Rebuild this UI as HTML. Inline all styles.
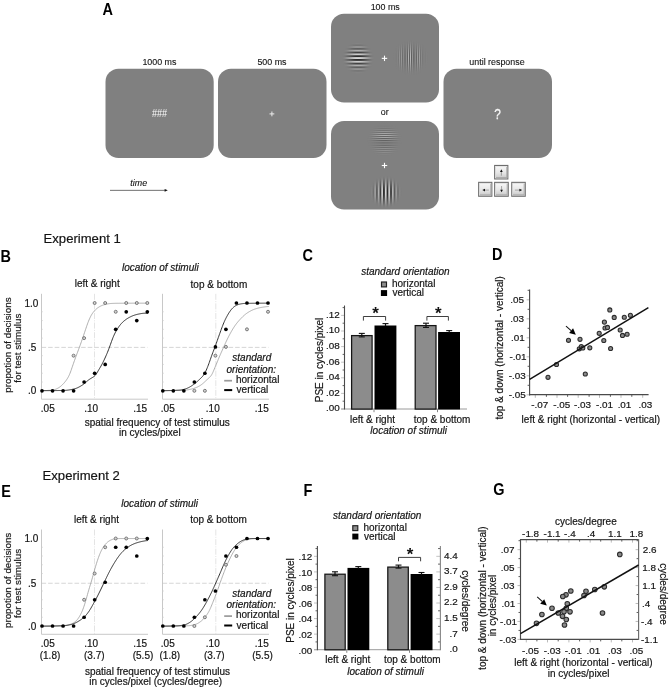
<!DOCTYPE html>
<html lang="en"><head><meta charset="utf-8"><title>Figure</title>
<style>html,body{margin:0;padding:0;background:#fff}svg{display:block;filter:blur(0.3px)}text{font-family:'Liberation Sans', sans-serif}</style>
</head><body>
<svg width="669" height="688" viewBox="0 0 669 688">
<rect width="669" height="688" fill="#fff"/>
<defs>
<linearGradient id="g1pg" x1="0" y1="0" x2="0" y2="1"><stop offset="0.0000" stop-color="rgb(1,1,1)"/><stop offset="0.0833" stop-color="rgb(18,18,18)"/><stop offset="0.1667" stop-color="rgb(64,64,64)"/><stop offset="0.2500" stop-color="rgb(128,128,128)"/><stop offset="0.3333" stop-color="rgb(191,191,191)"/><stop offset="0.4167" stop-color="rgb(238,238,238)"/><stop offset="0.5000" stop-color="rgb(255,255,255)"/><stop offset="0.5833" stop-color="rgb(238,238,238)"/><stop offset="0.6667" stop-color="rgb(192,192,192)"/><stop offset="0.7500" stop-color="rgb(128,128,128)"/><stop offset="0.8333" stop-color="rgb(64,64,64)"/><stop offset="0.9167" stop-color="rgb(18,18,18)"/><stop offset="1.0000" stop-color="rgb(1,1,1)"/></linearGradient>
<pattern id="g1p" patternUnits="userSpaceOnUse" x="0" y="56.190" width="40" height="3.72"><rect width="40" height="3.72" fill="url(#g1pg)"/></pattern>
<radialGradient id="g1mg" gradientUnits="userSpaceOnUse" cx="358.0" cy="58.05" r="16"><stop offset="0.0000" stop-color="rgb(255,255,255)"/><stop offset="0.0500" stop-color="rgb(253,253,253)"/><stop offset="0.1000" stop-color="rgb(248,248,248)"/><stop offset="0.1500" stop-color="rgb(240,240,240)"/><stop offset="0.2000" stop-color="rgb(228,228,228)"/><stop offset="0.2500" stop-color="rgb(214,214,214)"/><stop offset="0.3000" stop-color="rgb(199,199,199)"/><stop offset="0.3500" stop-color="rgb(182,182,182)"/><stop offset="0.4000" stop-color="rgb(164,164,164)"/><stop offset="0.4500" stop-color="rgb(146,146,146)"/><stop offset="0.5000" stop-color="rgb(128,128,128)"/><stop offset="0.5500" stop-color="rgb(110,110,110)"/><stop offset="0.6000" stop-color="rgb(94,94,94)"/><stop offset="0.6500" stop-color="rgb(79,79,79)"/><stop offset="0.7000" stop-color="rgb(66,66,66)"/><stop offset="0.7500" stop-color="rgb(45,45,45)"/><stop offset="0.8000" stop-color="rgb(29,29,29)"/><stop offset="0.8500" stop-color="rgb(17,17,17)"/><stop offset="0.9000" stop-color="rgb(9,9,9)"/><stop offset="0.9500" stop-color="rgb(3,3,3)"/><stop offset="1.0000" stop-color="rgb(0,0,0)"/></radialGradient>
<mask id="g1m" maskUnits="userSpaceOnUse" x="342.0" y="42.05" width="32" height="32"><rect x="342.0" y="42.05" width="32" height="32" fill="url(#g1mg)"/></mask>
<linearGradient id="g2pg" x1="0" y1="0" x2="1" y2="0"><stop offset="0.0000" stop-color="rgb(58,58,58)"/><stop offset="0.0833" stop-color="rgb(68,68,68)"/><stop offset="0.1667" stop-color="rgb(93,93,93)"/><stop offset="0.2500" stop-color="rgb(128,128,128)"/><stop offset="0.3333" stop-color="rgb(163,163,163)"/><stop offset="0.4167" stop-color="rgb(188,188,188)"/><stop offset="0.5000" stop-color="rgb(198,198,198)"/><stop offset="0.5833" stop-color="rgb(188,188,188)"/><stop offset="0.6667" stop-color="rgb(163,163,163)"/><stop offset="0.7500" stop-color="rgb(128,128,128)"/><stop offset="0.8333" stop-color="rgb(93,93,93)"/><stop offset="0.9167" stop-color="rgb(68,68,68)"/><stop offset="1.0000" stop-color="rgb(58,58,58)"/></linearGradient>
<pattern id="g2p" patternUnits="userSpaceOnUse" x="409.480" y="0" width="2.24" height="40"><rect width="2.24" height="40" fill="url(#g2pg)"/></pattern>
<radialGradient id="g2mg" gradientUnits="userSpaceOnUse" cx="410.6" cy="57.6" r="18"><stop offset="0.0000" stop-color="rgb(255,255,255)"/><stop offset="0.0500" stop-color="rgb(253,253,253)"/><stop offset="0.1000" stop-color="rgb(248,248,248)"/><stop offset="0.1500" stop-color="rgb(239,239,239)"/><stop offset="0.2000" stop-color="rgb(227,227,227)"/><stop offset="0.2500" stop-color="rgb(213,213,213)"/><stop offset="0.3000" stop-color="rgb(197,197,197)"/><stop offset="0.3500" stop-color="rgb(179,179,179)"/><stop offset="0.4000" stop-color="rgb(161,161,161)"/><stop offset="0.4500" stop-color="rgb(142,142,142)"/><stop offset="0.5000" stop-color="rgb(124,124,124)"/><stop offset="0.5500" stop-color="rgb(107,107,107)"/><stop offset="0.6000" stop-color="rgb(90,90,90)"/><stop offset="0.6500" stop-color="rgb(76,76,76)"/><stop offset="0.7000" stop-color="rgb(62,62,62)"/><stop offset="0.7500" stop-color="rgb(42,42,42)"/><stop offset="0.8000" stop-color="rgb(27,27,27)"/><stop offset="0.8500" stop-color="rgb(16,16,16)"/><stop offset="0.9000" stop-color="rgb(8,8,8)"/><stop offset="0.9500" stop-color="rgb(3,3,3)"/><stop offset="1.0000" stop-color="rgb(0,0,0)"/></radialGradient>
<mask id="g2m" maskUnits="userSpaceOnUse" x="392.6" y="39.6" width="36" height="36"><rect x="392.6" y="39.6" width="36" height="36" fill="url(#g2mg)"/></mask>
<linearGradient id="g3pg" x1="0" y1="0" x2="0" y2="1"><stop offset="0.0000" stop-color="rgb(64,64,64)"/><stop offset="0.0833" stop-color="rgb(73,73,73)"/><stop offset="0.1667" stop-color="rgb(96,96,96)"/><stop offset="0.2500" stop-color="rgb(128,128,128)"/><stop offset="0.3333" stop-color="rgb(160,160,160)"/><stop offset="0.4167" stop-color="rgb(183,183,183)"/><stop offset="0.5000" stop-color="rgb(192,192,192)"/><stop offset="0.5833" stop-color="rgb(183,183,183)"/><stop offset="0.6667" stop-color="rgb(160,160,160)"/><stop offset="0.7500" stop-color="rgb(128,128,128)"/><stop offset="0.8333" stop-color="rgb(96,96,96)"/><stop offset="0.9167" stop-color="rgb(73,73,73)"/><stop offset="1.0000" stop-color="rgb(64,64,64)"/></linearGradient>
<pattern id="g3p" patternUnits="userSpaceOnUse" x="0" y="138.740" width="40" height="2.12"><rect width="40" height="2.12" fill="url(#g3pg)"/></pattern>
<radialGradient id="g3mg" gradientUnits="userSpaceOnUse" cx="384.6" cy="139.8" r="17.5"><stop offset="0.0000" stop-color="rgb(255,255,255)"/><stop offset="0.0500" stop-color="rgb(253,253,253)"/><stop offset="0.1000" stop-color="rgb(248,248,248)"/><stop offset="0.1500" stop-color="rgb(239,239,239)"/><stop offset="0.2000" stop-color="rgb(227,227,227)"/><stop offset="0.2500" stop-color="rgb(212,212,212)"/><stop offset="0.3000" stop-color="rgb(195,195,195)"/><stop offset="0.3500" stop-color="rgb(178,178,178)"/><stop offset="0.4000" stop-color="rgb(159,159,159)"/><stop offset="0.4500" stop-color="rgb(140,140,140)"/><stop offset="0.5000" stop-color="rgb(122,122,122)"/><stop offset="0.5500" stop-color="rgb(104,104,104)"/><stop offset="0.6000" stop-color="rgb(88,88,88)"/><stop offset="0.6500" stop-color="rgb(73,73,73)"/><stop offset="0.7000" stop-color="rgb(60,60,60)"/><stop offset="0.7500" stop-color="rgb(40,40,40)"/><stop offset="0.8000" stop-color="rgb(26,26,26)"/><stop offset="0.8500" stop-color="rgb(15,15,15)"/><stop offset="0.9000" stop-color="rgb(8,8,8)"/><stop offset="0.9500" stop-color="rgb(3,3,3)"/><stop offset="1.0000" stop-color="rgb(0,0,0)"/></radialGradient>
<mask id="g3m" maskUnits="userSpaceOnUse" x="367.1" y="122.30000000000001" width="35.0" height="35.0"><rect x="367.1" y="122.30000000000001" width="35.0" height="35.0" fill="url(#g3mg)"/></mask>
<linearGradient id="g4pg" x1="0" y1="0" x2="1" y2="0"><stop offset="0.0000" stop-color="rgb(1,1,1)"/><stop offset="0.0833" stop-color="rgb(18,18,18)"/><stop offset="0.1667" stop-color="rgb(64,64,64)"/><stop offset="0.2500" stop-color="rgb(128,128,128)"/><stop offset="0.3333" stop-color="rgb(191,191,191)"/><stop offset="0.4167" stop-color="rgb(238,238,238)"/><stop offset="0.5000" stop-color="rgb(255,255,255)"/><stop offset="0.5833" stop-color="rgb(238,238,238)"/><stop offset="0.6667" stop-color="rgb(192,192,192)"/><stop offset="0.7500" stop-color="rgb(128,128,128)"/><stop offset="0.8333" stop-color="rgb(64,64,64)"/><stop offset="0.9167" stop-color="rgb(18,18,18)"/><stop offset="1.0000" stop-color="rgb(1,1,1)"/></linearGradient>
<pattern id="g4p" patternUnits="userSpaceOnUse" x="383.925" y="0" width="3.55" height="40"><rect width="3.55" height="40" fill="url(#g4pg)"/></pattern>
<radialGradient id="g4mg" gradientUnits="userSpaceOnUse" cx="385.7" cy="192.1" r="16.5"><stop offset="0.0000" stop-color="rgb(255,255,255)"/><stop offset="0.0500" stop-color="rgb(253,253,253)"/><stop offset="0.1000" stop-color="rgb(248,248,248)"/><stop offset="0.1500" stop-color="rgb(239,239,239)"/><stop offset="0.2000" stop-color="rgb(227,227,227)"/><stop offset="0.2500" stop-color="rgb(213,213,213)"/><stop offset="0.3000" stop-color="rgb(197,197,197)"/><stop offset="0.3500" stop-color="rgb(180,180,180)"/><stop offset="0.4000" stop-color="rgb(161,161,161)"/><stop offset="0.4500" stop-color="rgb(143,143,143)"/><stop offset="0.5000" stop-color="rgb(125,125,125)"/><stop offset="0.5500" stop-color="rgb(107,107,107)"/><stop offset="0.6000" stop-color="rgb(91,91,91)"/><stop offset="0.6500" stop-color="rgb(76,76,76)"/><stop offset="0.7000" stop-color="rgb(63,63,63)"/><stop offset="0.7500" stop-color="rgb(43,43,43)"/><stop offset="0.8000" stop-color="rgb(27,27,27)"/><stop offset="0.8500" stop-color="rgb(16,16,16)"/><stop offset="0.9000" stop-color="rgb(8,8,8)"/><stop offset="0.9500" stop-color="rgb(3,3,3)"/><stop offset="1.0000" stop-color="rgb(0,0,0)"/></radialGradient>
<mask id="g4m" maskUnits="userSpaceOnUse" x="369.2" y="175.6" width="33.0" height="33.0"><rect x="369.2" y="175.6" width="33.0" height="33.0" fill="url(#g4mg)"/></mask>
<linearGradient id="keyface" x1="0" y1="0" x2="0" y2="1"><stop offset="0" stop-color="#f6f6f6"/><stop offset="0.6" stop-color="#e6e6e6"/><stop offset="1" stop-color="#cfcfcf"/></linearGradient>
</defs>
<text transform="translate(102.5 15.1) scale(0.91 1)" font-size="15.9" font-weight="bold" fill="#000">A</text>
<rect x="105.5" y="68.8" width="108.2" height="89.2" rx="13" ry="13" fill="#808080"/>
<rect x="218.0" y="68.8" width="108.5" height="89.2" rx="13" ry="13" fill="#808080"/>
<rect x="331.0" y="13.8" width="108.0" height="88.7" rx="13" ry="13" fill="#808080"/>
<rect x="331.0" y="121.0" width="108.0" height="88.5" rx="13" ry="13" fill="#808080"/>
<rect x="443.5" y="68.8" width="108.5" height="89.2" rx="13" ry="13" fill="#808080"/>
<text x="159.4" y="64.6" font-size="8.9" text-anchor="middle" fill="#111" stroke="#222" stroke-width="0.12">1000 ms</text>
<text x="272.0" y="64.6" font-size="8.9" text-anchor="middle" fill="#111" stroke="#222" stroke-width="0.12">500 ms</text>
<text x="385.2" y="9.6" font-size="8.9" text-anchor="middle" fill="#111" stroke="#222" stroke-width="0.12">100 ms</text>
<text x="384.7" y="115.2" font-size="8.9" text-anchor="middle" fill="#111" stroke="#222" stroke-width="0.12">or</text>
<text x="497.0" y="64.6" font-size="8.9" text-anchor="middle" fill="#111" stroke="#222" stroke-width="0.12">until response</text>
<text x="151.9" y="117.0" font-size="10" text-anchor="start" fill="#fafafa" textLength="15.2" lengthAdjust="spacingAndGlyphs">###</text>
<line x1="269.5" y1="113.9" x2="274.29999999999995" y2="113.9" stroke="#ececec" stroke-width="1.0"/>
<line x1="271.9" y1="111.5" x2="271.9" y2="116.30000000000001" stroke="#ececec" stroke-width="1.0"/>
<line x1="381.8" y1="58.35" x2="387.2" y2="58.35" stroke="#fff" stroke-width="1.1"/>
<line x1="384.5" y1="55.65" x2="384.5" y2="61.050000000000004" stroke="#fff" stroke-width="1.1"/>
<line x1="381.8" y1="165.5" x2="387.2" y2="165.5" stroke="#fff" stroke-width="1.1"/>
<line x1="384.5" y1="162.8" x2="384.5" y2="168.2" stroke="#fff" stroke-width="1.1"/>
<text transform="translate(497.6 119.2) scale(0.8 1)" font-size="14.8" text-anchor="middle" fill="#f6f6f6" stroke="#f6f6f6" stroke-width="0.3">?</text>
<rect x="342.0" y="42.05" width="32" height="32" fill="url(#g1p)" mask="url(#g1m)"/>
<rect x="392.6" y="39.6" width="36" height="36" fill="url(#g2p)" mask="url(#g2m)"/>
<rect x="367.1" y="122.30000000000001" width="35.0" height="35.0" fill="url(#g3p)" mask="url(#g3m)"/>
<rect x="369.2" y="175.6" width="33.0" height="33.0" fill="url(#g4p)" mask="url(#g4m)"/>
<text x="130.3" y="186.0" font-size="8.9" text-anchor="start" fill="#111" stroke="#222" stroke-width="0.12" font-style="italic">time</text>
<line x1="110" y1="190.35" x2="165.5" y2="190.35" stroke="#222" stroke-width="0.65"/>
<path d="M167.8 190.35 L164.6 189.0 L164.6 191.7 Z" fill="#111"/>
<rect x="494.1" y="164.9" width="14.3" height="14.6" fill="#6e6e6e"/>
<rect x="495.20000000000005" y="166.0" width="12.100000000000001" height="12.399999999999999" fill="#fafafa"/>
<rect x="495.90000000000003" y="166.70000000000002" width="11.4" height="11.7" fill="#a8a8a8"/>
<rect x="495.90000000000003" y="166.70000000000002" width="10.4" height="10.399999999999999" fill="url(#keyface)"/>
<line x1="501.35" y1="171.2" x2="501.35" y2="175.7" stroke="#7a7a7a" stroke-width="0.7"/>
<path d="M501.35 169.2 L500.0 171.9 L502.70000000000005 171.9 Z" fill="#111"/>
<rect x="478.1" y="181.8" width="14.3" height="15.0" fill="#6e6e6e"/>
<rect x="479.20000000000005" y="182.9" width="12.100000000000001" height="12.8" fill="#fafafa"/>
<rect x="479.90000000000003" y="183.60000000000002" width="11.4" height="12.1" fill="#a8a8a8"/>
<rect x="479.90000000000003" y="183.60000000000002" width="10.4" height="10.8" fill="url(#keyface)"/>
<line x1="484.2" y1="190.1" x2="488.9" y2="190.1" stroke="#8a8a8a" stroke-width="0.7"/>
<path d="M482.3 190.1 L485.0 188.75 L485.0 191.45 Z" fill="#111"/>
<rect x="494.1" y="181.8" width="14.7" height="15.0" fill="#6e6e6e"/>
<rect x="495.20000000000005" y="182.9" width="12.5" height="12.8" fill="#fafafa"/>
<rect x="495.90000000000003" y="183.60000000000002" width="11.799999999999999" height="12.1" fill="#a8a8a8"/>
<rect x="495.90000000000003" y="183.60000000000002" width="10.799999999999999" height="10.8" fill="url(#keyface)"/>
<line x1="501.55000000000007" y1="186.0" x2="501.55000000000007" y2="190.4" stroke="#8a8a8a" stroke-width="0.7"/>
<path d="M501.55000000000007 192.3 L500.20000000000005 189.7 L502.9000000000001 189.7 Z" fill="#111"/>
<rect x="511.2" y="181.8" width="14.6" height="15.0" fill="#6e6e6e"/>
<rect x="512.3" y="182.9" width="12.399999999999999" height="12.8" fill="#fafafa"/>
<rect x="513.0" y="183.60000000000002" width="11.7" height="12.1" fill="#a8a8a8"/>
<rect x="513.0" y="183.60000000000002" width="10.7" height="10.8" fill="url(#keyface)"/>
<line x1="514.9" y1="190.1" x2="519.6" y2="190.1" stroke="#8a8a8a" stroke-width="0.7"/>
<path d="M522.2 190.1 L519.4 188.75 L519.4 191.45 Z" fill="#111"/>
<text x="43.6" y="243.3" font-size="13.1" text-anchor="start" fill="#111" stroke="#222" stroke-width="0.2">Experiment 1</text>
<text transform="translate(0.4 262.0) scale(0.91 1)" font-size="15.9" font-weight="bold" fill="#000">B</text>
<text x="122.0" y="270.9" font-size="10.0" text-anchor="start" fill="#111" stroke="#222" stroke-width="0.2" font-style="italic">location of stimuli</text>
<text x="97.2" y="286.9" font-size="10.0" text-anchor="middle" fill="#111" stroke="#222" stroke-width="0.2">left &amp; right</text>
<text x="218.9" y="287.5" font-size="10.0" text-anchor="middle" fill="#111" stroke="#222" stroke-width="0.2">top &amp; bottom</text>
<line x1="41.5" y1="293.8" x2="41.5" y2="399.2" stroke="#c2c2c2" stroke-width="0.9"/>
<line x1="41.5" y1="399.2" x2="148.0" y2="399.2" stroke="#c2c2c2" stroke-width="0.9"/>
<line x1="41.5" y1="347.4" x2="147.5" y2="347.4" stroke="#c4c4c4" stroke-width="0.7" stroke-dasharray="4.6 2"/>
<line x1="94.5" y1="293.8" x2="94.5" y2="399.2" stroke="#d2d2d2" stroke-width="0.6" stroke-dasharray="6 1.3 1 1.3"/>
<line x1="41.5" y1="382.02" x2="43.0" y2="382.02" stroke="#d0d0d0" stroke-width="0.6"/>
<line x1="41.5" y1="373.24" x2="43.0" y2="373.24" stroke="#d0d0d0" stroke-width="0.6"/>
<line x1="41.5" y1="364.46000000000004" x2="43.0" y2="364.46000000000004" stroke="#d0d0d0" stroke-width="0.6"/>
<line x1="41.5" y1="355.68" x2="43.0" y2="355.68" stroke="#d0d0d0" stroke-width="0.6"/>
<line x1="41.5" y1="338.12" x2="43.0" y2="338.12" stroke="#d0d0d0" stroke-width="0.6"/>
<line x1="41.5" y1="329.34" x2="43.0" y2="329.34" stroke="#d0d0d0" stroke-width="0.6"/>
<line x1="41.5" y1="320.56" x2="43.0" y2="320.56" stroke="#d0d0d0" stroke-width="0.6"/>
<line x1="41.5" y1="311.78" x2="43.0" y2="311.78" stroke="#d0d0d0" stroke-width="0.6"/>
<line x1="162.5" y1="293.8" x2="162.5" y2="399.2" stroke="#c2c2c2" stroke-width="0.9"/>
<line x1="162.5" y1="399.2" x2="269.0" y2="399.2" stroke="#c2c2c2" stroke-width="0.9"/>
<line x1="162.5" y1="347.4" x2="268.5" y2="347.4" stroke="#c4c4c4" stroke-width="0.7" stroke-dasharray="4.6 2"/>
<line x1="215.8" y1="293.8" x2="215.8" y2="399.2" stroke="#d2d2d2" stroke-width="0.6" stroke-dasharray="6 1.3 1 1.3"/>
<line x1="162.5" y1="382.02" x2="164.0" y2="382.02" stroke="#d0d0d0" stroke-width="0.6"/>
<line x1="162.5" y1="373.24" x2="164.0" y2="373.24" stroke="#d0d0d0" stroke-width="0.6"/>
<line x1="162.5" y1="364.46000000000004" x2="164.0" y2="364.46000000000004" stroke="#d0d0d0" stroke-width="0.6"/>
<line x1="162.5" y1="355.68" x2="164.0" y2="355.68" stroke="#d0d0d0" stroke-width="0.6"/>
<line x1="162.5" y1="338.12" x2="164.0" y2="338.12" stroke="#d0d0d0" stroke-width="0.6"/>
<line x1="162.5" y1="329.34" x2="164.0" y2="329.34" stroke="#d0d0d0" stroke-width="0.6"/>
<line x1="162.5" y1="320.56" x2="164.0" y2="320.56" stroke="#d0d0d0" stroke-width="0.6"/>
<line x1="162.5" y1="311.78" x2="164.0" y2="311.78" stroke="#d0d0d0" stroke-width="0.6"/>
<polyline points="42.0,390.62 42.5,390.62 43.0,390.61 43.5,390.61 44.0,390.60 44.5,390.59 45.0,390.57 45.5,390.56 46.0,390.54 46.5,390.52 47.0,390.49 47.5,390.46 48.0,390.43 48.5,390.40 49.0,390.36 49.5,390.33 50.0,390.28 50.5,390.24 51.0,390.19 51.5,390.15 52.0,390.09 52.5,390.03 53.0,389.96 53.5,389.88 54.0,389.77 54.5,389.64 55.0,389.49 55.5,389.31 56.0,389.11 56.5,388.89 57.0,388.65 57.5,388.39 58.0,388.12 58.5,387.83 59.0,387.52 59.5,387.18 60.0,386.82 60.5,386.44 61.0,386.02 61.5,385.58 62.0,385.12 62.5,384.64 63.0,384.14 63.5,383.61 64.0,383.06 64.5,382.48 65.0,381.88 65.5,381.24 66.0,380.57 66.5,379.86 67.0,379.12 67.5,378.32 68.0,377.47 68.5,376.56 69.0,375.57 69.5,374.47 70.0,373.28 70.5,371.98 71.0,370.59 71.5,369.15 72.0,367.68 72.5,366.21 73.0,364.75 73.5,363.31 74.0,361.89 74.5,360.49 75.0,359.10 75.5,357.73 76.0,356.37 76.5,355.02 77.0,353.68 77.5,352.34 78.0,351.01 78.5,349.67 79.0,348.33 79.5,346.97 80.0,345.61 80.5,344.23 81.0,342.83 81.5,341.43 82.0,340.00 82.5,338.55 83.0,337.09 83.5,335.61 84.0,334.12 84.5,332.63 85.0,331.13 85.5,329.64 86.0,328.16 86.5,326.70 87.0,325.26 87.5,323.86 88.0,322.51 88.5,321.22 89.0,320.00 89.5,318.84 90.0,317.75 90.5,316.72 91.0,315.76 91.5,314.87 92.0,314.05 92.5,313.29 93.0,312.60 93.5,311.95 94.0,311.35 94.5,310.79 95.0,310.26 95.5,309.75 96.0,309.27 96.5,308.82 97.0,308.40 97.5,308.01 98.0,307.64 98.5,307.30 99.0,306.98 99.5,306.68 100.0,306.41 100.5,306.15 101.0,305.91 101.5,305.68 102.0,305.47 102.5,305.28 103.0,305.10 103.5,304.93 104.0,304.77 104.5,304.63 105.0,304.49 105.5,304.36 106.0,304.25 106.5,304.14 107.0,304.03 107.5,303.93 108.0,303.84 108.5,303.76 109.0,303.69 109.5,303.63 110.0,303.58 110.5,303.54 111.0,303.50 111.5,303.47 112.0,303.44 112.5,303.41 113.0,303.39 113.5,303.37 114.0,303.35 114.5,303.33 115.0,303.32 115.5,303.31 116.0,303.30 116.5,303.29 117.0,303.28 117.5,303.28 118.0,303.27 118.5,303.27 119.0,303.26 119.5,303.26 120.0,303.26 120.5,303.25 121.0,303.25 121.5,303.24 122.0,303.24 122.5,303.24 123.0,303.23 123.5,303.23 124.0,303.23 124.5,303.22 125.0,303.22 125.5,303.22 126.0,303.21 126.5,303.21 127.0,303.21 127.5,303.20 128.0,303.20 128.5,303.20 129.0,303.20 129.5,303.19 130.0,303.19 130.5,303.19 131.0,303.19 131.5,303.19 132.0,303.18 132.5,303.18 133.0,303.18 133.5,303.18 134.0,303.18 134.5,303.18 135.0,303.17 135.5,303.17 136.0,303.17 136.5,303.17 137.0,303.17 137.5,303.17 138.0,303.17 138.5,303.17 139.0,303.17 139.5,303.16 140.0,303.16 140.5,303.16 141.0,303.16 141.5,303.16 142.0,303.16 142.5,303.16 143.0,303.16 143.5,303.16 144.0,303.16 144.5,303.16 145.0,303.16 145.5,303.16 146.0,303.16 146.5,303.16 147.0,303.16 147.5,303.16" fill="none" stroke="#9a9a9a" stroke-width="0.8" stroke-linejoin="round" stroke-linecap="round"/>
<polyline points="42.0,390.62 42.5,390.62 43.0,390.62 43.5,390.62 44.0,390.62 44.5,390.62 45.0,390.62 45.5,390.62 46.0,390.62 46.5,390.61 47.0,390.61 47.5,390.61 48.0,390.61 48.5,390.61 49.0,390.61 49.5,390.60 50.0,390.60 50.5,390.60 51.0,390.60 51.5,390.59 52.0,390.59 52.5,390.59 53.0,390.58 53.5,390.58 54.0,390.57 54.5,390.57 55.0,390.57 55.5,390.56 56.0,390.56 56.5,390.55 57.0,390.55 57.5,390.54 58.0,390.54 58.5,390.53 59.0,390.52 59.5,390.52 60.0,390.51 60.5,390.50 61.0,390.50 61.5,390.49 62.0,390.48 62.5,390.47 63.0,390.46 63.5,390.45 64.0,390.44 64.5,390.42 65.0,390.40 65.5,390.37 66.0,390.33 66.5,390.28 67.0,390.23 67.5,390.17 68.0,390.11 68.5,390.04 69.0,389.96 69.5,389.88 70.0,389.80 70.5,389.71 71.0,389.61 71.5,389.51 72.0,389.41 72.5,389.30 73.0,389.19 73.5,389.08 74.0,388.95 74.5,388.83 75.0,388.69 75.5,388.54 76.0,388.37 76.5,388.19 77.0,387.99 77.5,387.77 78.0,387.54 78.5,387.29 79.0,387.03 79.5,386.76 80.0,386.48 80.5,386.19 81.0,385.89 81.5,385.59 82.0,385.27 82.5,384.94 83.0,384.59 83.5,384.22 84.0,383.84 84.5,383.43 85.0,383.01 85.5,382.58 86.0,382.14 86.5,381.71 87.0,381.27 87.5,380.84 88.0,380.43 88.5,380.03 89.0,379.65 89.5,379.30 90.0,378.97 90.5,378.65 91.0,378.35 91.5,378.06 92.0,377.77 92.5,377.47 93.0,377.16 93.5,376.83 94.0,376.46 94.5,376.05 95.0,375.57 95.5,375.01 96.0,374.36 96.5,373.62 97.0,372.82 97.5,371.97 98.0,371.11 98.5,370.26 99.0,369.41 99.5,368.57 100.0,367.73 100.5,366.88 101.0,366.01 101.5,365.12 102.0,364.19 102.5,363.24 103.0,362.25 103.5,361.24 104.0,360.20 104.5,359.14 105.0,358.06 105.5,356.95 106.0,355.82 106.5,354.67 107.0,353.48 107.5,352.27 108.0,351.02 108.5,349.74 109.0,348.42 109.5,347.07 110.0,345.70 110.5,344.31 111.0,342.92 111.5,341.53 112.0,340.16 112.5,338.83 113.0,337.55 113.5,336.35 114.0,335.21 114.5,334.15 115.0,333.14 115.5,332.18 116.0,331.27 116.5,330.39 117.0,329.54 117.5,328.73 118.0,327.95 118.5,327.21 119.0,326.49 119.5,325.81 120.0,325.16 120.5,324.54 121.0,323.94 121.5,323.38 122.0,322.85 122.5,322.34 123.0,321.86 123.5,321.41 124.0,320.98 124.5,320.57 125.0,320.17 125.5,319.80 126.0,319.44 126.5,319.09 127.0,318.76 127.5,318.44 128.0,318.14 128.5,317.84 129.0,317.56 129.5,317.29 130.0,317.02 130.5,316.77 131.0,316.53 131.5,316.30 132.0,316.08 132.5,315.87 133.0,315.68 133.5,315.49 134.0,315.32 134.5,315.15 135.0,314.99 135.5,314.84 136.0,314.69 136.5,314.56 137.0,314.43 137.5,314.31 138.0,314.19 138.5,314.08 139.0,313.98 139.5,313.88 140.0,313.79 140.5,313.70 141.0,313.61 141.5,313.53 142.0,313.46 142.5,313.39 143.0,313.34 143.5,313.29 144.0,313.26 144.5,313.23 145.0,313.22 145.5,313.21 146.0,313.21 146.5,313.21 147.0,313.21 147.5,313.21" fill="none" stroke="#1c1c1c" stroke-width="0.9" stroke-linejoin="round" stroke-linecap="round"/>
<polyline points="162.8,390.62 163.3,390.62 163.8,390.62 164.3,390.62 164.8,390.62 165.3,390.62 165.8,390.61 166.3,390.61 166.8,390.61 167.3,390.60 167.8,390.60 168.3,390.59 168.8,390.59 169.3,390.58 169.8,390.58 170.3,390.57 170.8,390.56 171.3,390.56 171.8,390.55 172.3,390.54 172.8,390.53 173.3,390.52 173.8,390.51 174.3,390.50 174.8,390.49 175.3,390.47 175.8,390.46 176.3,390.45 176.8,390.43 177.3,390.42 177.8,390.41 178.3,390.39 178.8,390.37 179.3,390.36 179.8,390.34 180.3,390.32 180.8,390.30 181.3,390.29 181.8,390.27 182.3,390.25 182.8,390.23 183.3,390.21 183.8,390.18 184.3,390.16 184.8,390.13 185.3,390.10 185.8,390.06 186.3,390.02 186.8,389.96 187.3,389.90 187.8,389.83 188.3,389.74 188.8,389.65 189.3,389.55 189.8,389.44 190.3,389.33 190.8,389.21 191.3,389.08 191.8,388.95 192.3,388.82 192.8,388.68 193.3,388.54 193.8,388.39 194.3,388.23 194.8,388.06 195.3,387.88 195.8,387.69 196.3,387.49 196.8,387.27 197.3,387.05 197.8,386.81 198.3,386.56 198.8,386.30 199.3,386.02 199.8,385.73 200.3,385.43 200.8,385.10 201.3,384.75 201.8,384.38 202.3,383.99 202.8,383.57 203.3,383.14 203.8,382.68 204.3,382.22 204.8,381.75 205.3,381.27 205.8,380.80 206.3,380.33 206.8,379.86 207.3,379.41 207.8,378.96 208.3,378.52 208.8,378.07 209.3,377.61 209.8,377.12 210.3,376.59 210.8,375.99 211.3,375.29 211.8,374.49 212.3,373.57 212.8,372.54 213.3,371.42 213.8,370.24 214.3,369.02 214.8,367.81 215.3,366.59 215.8,365.38 216.3,364.17 216.8,362.97 217.3,361.76 217.8,360.56 218.3,359.35 218.8,358.15 219.3,356.95 219.8,355.77 220.3,354.61 220.8,353.46 221.3,352.33 221.8,351.21 222.3,350.11 222.8,349.00 223.3,347.90 223.8,346.78 224.3,345.67 224.8,344.55 225.3,343.45 225.8,342.35 226.3,341.27 226.8,340.22 227.3,339.19 227.8,338.18 228.3,337.19 228.8,336.21 229.3,335.25 229.8,334.31 230.3,333.38 230.8,332.47 231.3,331.57 231.8,330.70 232.3,329.85 232.8,329.02 233.3,328.22 233.8,327.43 234.3,326.67 234.8,325.93 235.3,325.21 235.8,324.52 236.3,323.85 236.8,323.20 237.3,322.58 237.8,321.98 238.3,321.39 238.8,320.82 239.3,320.26 239.8,319.71 240.3,319.17 240.8,318.63 241.3,318.10 241.8,317.58 242.3,317.08 242.8,316.59 243.3,316.11 243.8,315.65 244.3,315.21 244.8,314.79 245.3,314.39 245.8,314.00 246.3,313.63 246.8,313.27 247.3,312.92 247.8,312.59 248.3,312.27 248.8,311.97 249.3,311.67 249.8,311.38 250.3,311.11 250.8,310.84 251.3,310.58 251.8,310.34 252.3,310.10 252.8,309.88 253.3,309.67 253.8,309.47 254.3,309.28 254.8,309.10 255.3,308.93 255.8,308.77 256.3,308.62 256.8,308.47 257.3,308.33 257.8,308.20 258.3,308.07 258.8,307.95 259.3,307.84 259.8,307.74 260.3,307.63 260.8,307.54 261.3,307.44 261.8,307.35 262.3,307.27 262.8,307.19 263.3,307.11 263.8,307.03 264.3,306.96 264.8,306.89 265.3,306.82 265.8,306.76 266.3,306.70 266.8,306.64 267.3,306.59 267.8,306.55 268.3,306.52" fill="none" stroke="#9a9a9a" stroke-width="0.8" stroke-linejoin="round" stroke-linecap="round"/>
<polyline points="162.8,390.62 163.3,390.62 163.8,390.62 164.3,390.62 164.8,390.61 165.3,390.61 165.8,390.61 166.3,390.60 166.8,390.60 167.3,390.59 167.8,390.58 168.3,390.57 168.8,390.56 169.3,390.55 169.8,390.54 170.3,390.53 170.8,390.52 171.3,390.50 171.8,390.49 172.3,390.47 172.8,390.46 173.3,390.44 173.8,390.42 174.3,390.40 174.8,390.38 175.3,390.36 175.8,390.34 176.3,390.32 176.8,390.29 177.3,390.27 177.8,390.24 178.3,390.22 178.8,390.19 179.3,390.16 179.8,390.12 180.3,390.07 180.8,390.02 181.3,389.95 181.8,389.86 182.3,389.77 182.8,389.65 183.3,389.53 183.8,389.40 184.3,389.25 184.8,389.10 185.3,388.94 185.8,388.77 186.3,388.59 186.8,388.41 187.3,388.21 187.8,387.99 188.3,387.76 188.8,387.51 189.3,387.25 189.8,386.97 190.3,386.67 190.8,386.37 191.3,386.05 191.8,385.72 192.3,385.39 192.8,385.05 193.3,384.70 193.8,384.34 194.3,383.97 194.8,383.58 195.3,383.19 195.8,382.78 196.3,382.35 196.8,381.92 197.3,381.47 197.8,381.02 198.3,380.55 198.8,380.09 199.3,379.61 199.8,379.14 200.3,378.67 200.8,378.18 201.3,377.69 201.8,377.19 202.3,376.66 202.8,376.09 203.3,375.48 203.8,374.80 204.3,374.04 204.8,373.19 205.3,372.23 205.8,371.19 206.3,370.06 206.8,368.88 207.3,367.66 207.8,366.41 208.3,365.12 208.8,363.80 209.3,362.43 209.8,361.02 210.3,359.58 210.8,358.13 211.3,356.69 211.8,355.29 212.3,353.94 212.8,352.62 213.3,351.34 213.8,350.07 214.3,348.78 214.8,347.48 215.3,346.13 215.8,344.75 216.3,343.33 216.8,341.89 217.3,340.45 217.8,339.02 218.3,337.59 218.8,336.19 219.3,334.79 219.8,333.41 220.3,332.02 220.8,330.64 221.3,329.26 221.8,327.90 222.3,326.57 222.8,325.27 223.3,324.01 223.8,322.80 224.3,321.65 224.8,320.54 225.3,319.48 225.8,318.46 226.3,317.48 226.8,316.54 227.3,315.63 227.8,314.76 228.3,313.91 228.8,313.10 229.3,312.32 229.8,311.57 230.3,310.85 230.8,310.18 231.3,309.55 231.8,308.96 232.3,308.41 232.8,307.91 233.3,307.44 233.8,307.01 234.3,306.61 234.8,306.25 235.3,305.93 235.8,305.64 236.3,305.37 236.8,305.14 237.3,304.92 237.8,304.72 238.3,304.54 238.8,304.38 239.3,304.24 239.8,304.12 240.3,304.01 240.8,303.91 241.3,303.82 241.8,303.74 242.3,303.67 242.8,303.61 243.3,303.55 243.8,303.51 244.3,303.47 244.8,303.44 245.3,303.42 245.8,303.40 246.3,303.39 246.8,303.38 247.3,303.36 247.8,303.35 248.3,303.34 248.8,303.34 249.3,303.33 249.8,303.32 250.3,303.31 250.8,303.30 251.3,303.29 251.8,303.29 252.3,303.28 252.8,303.27 253.3,303.26 253.8,303.26 254.3,303.25 254.8,303.25 255.3,303.24 255.8,303.23 256.3,303.23 256.8,303.22 257.3,303.22 257.8,303.21 258.3,303.21 258.8,303.20 259.3,303.20 259.8,303.20 260.3,303.19 260.8,303.19 261.3,303.19 261.8,303.18 262.3,303.18 262.8,303.18 263.3,303.18 263.8,303.17 264.3,303.17 264.8,303.17 265.3,303.17 265.8,303.17 266.3,303.17 266.8,303.17 267.3,303.16 267.8,303.16 268.3,303.16" fill="none" stroke="#1c1c1c" stroke-width="0.9" stroke-linejoin="round" stroke-linecap="round"/>
<circle cx="73.59" cy="355.68" r="1.5" fill="#d2d2d2" stroke="#6e6e6e" stroke-width="0.9"/>
<circle cx="84.12" cy="338.12" r="1.5" fill="#d2d2d2" stroke="#6e6e6e" stroke-width="0.9"/>
<circle cx="94.65" cy="303.00" r="1.5" fill="#d2d2d2" stroke="#6e6e6e" stroke-width="0.9"/>
<circle cx="105.18" cy="303.00" r="1.5" fill="#d2d2d2" stroke="#6e6e6e" stroke-width="0.9"/>
<circle cx="115.71" cy="311.78" r="1.5" fill="#d2d2d2" stroke="#6e6e6e" stroke-width="0.9"/>
<circle cx="126.24" cy="303.00" r="1.5" fill="#d2d2d2" stroke="#6e6e6e" stroke-width="0.9"/>
<circle cx="136.77" cy="303.00" r="1.5" fill="#d2d2d2" stroke="#6e6e6e" stroke-width="0.9"/>
<circle cx="147.30" cy="303.00" r="1.5" fill="#d2d2d2" stroke="#6e6e6e" stroke-width="0.9"/>
<circle cx="42.00" cy="390.80" r="1.85" fill="#000"/>
<circle cx="52.53" cy="390.80" r="1.85" fill="#000"/>
<circle cx="63.06" cy="390.80" r="1.85" fill="#000"/>
<circle cx="73.59" cy="390.80" r="1.85" fill="#000"/>
<circle cx="84.12" cy="382.02" r="1.85" fill="#000"/>
<circle cx="94.65" cy="373.24" r="1.85" fill="#000"/>
<circle cx="105.18" cy="364.46" r="1.85" fill="#000"/>
<circle cx="115.71" cy="329.34" r="1.85" fill="#000"/>
<circle cx="126.24" cy="311.78" r="1.85" fill="#000"/>
<circle cx="136.77" cy="320.56" r="1.85" fill="#000"/>
<circle cx="147.30" cy="311.78" r="1.85" fill="#000"/>
<circle cx="194.36" cy="390.80" r="1.5" fill="#d2d2d2" stroke="#6e6e6e" stroke-width="0.9"/>
<circle cx="204.88" cy="390.80" r="1.5" fill="#d2d2d2" stroke="#6e6e6e" stroke-width="0.9"/>
<circle cx="215.40" cy="355.68" r="1.5" fill="#d2d2d2" stroke="#6e6e6e" stroke-width="0.9"/>
<circle cx="225.92" cy="346.90" r="1.5" fill="#d2d2d2" stroke="#6e6e6e" stroke-width="0.9"/>
<circle cx="246.96" cy="329.34" r="1.5" fill="#d2d2d2" stroke="#6e6e6e" stroke-width="0.9"/>
<circle cx="268.00" cy="311.78" r="1.5" fill="#d2d2d2" stroke="#6e6e6e" stroke-width="0.9"/>
<circle cx="162.80" cy="390.80" r="1.85" fill="#000"/>
<circle cx="173.32" cy="390.80" r="1.85" fill="#000"/>
<circle cx="183.84" cy="390.80" r="1.85" fill="#000"/>
<circle cx="194.36" cy="382.02" r="1.85" fill="#000"/>
<circle cx="204.88" cy="373.24" r="1.85" fill="#000"/>
<circle cx="215.40" cy="346.90" r="1.85" fill="#000"/>
<circle cx="225.92" cy="329.34" r="1.85" fill="#000"/>
<circle cx="236.44" cy="303.00" r="1.85" fill="#000"/>
<circle cx="246.96" cy="303.00" r="1.85" fill="#000"/>
<circle cx="257.48" cy="303.00" r="1.85" fill="#000"/>
<circle cx="268.00" cy="303.00" r="1.85" fill="#000"/>
<text x="38.3" y="306.65" font-size="10.0" text-anchor="end" fill="#111" stroke="#222" stroke-width="0.2">1.0</text>
<text x="36.4" y="351.34999999999997" font-size="10.0" text-anchor="end" fill="#111" stroke="#222" stroke-width="0.2">.5</text>
<text x="36.4" y="394.45" font-size="10.0" text-anchor="end" fill="#111" stroke="#222" stroke-width="0.2">.0</text>
<text x="40.8" y="411.6" font-size="10.0" text-anchor="start" fill="#111" stroke="#222" stroke-width="0.2">.05</text>
<text x="84.2" y="411.6" font-size="10.0" text-anchor="start" fill="#111" stroke="#222" stroke-width="0.2">.10</text>
<text x="133.2" y="411.6" font-size="10.0" text-anchor="start" fill="#111" stroke="#222" stroke-width="0.2">.15</text>
<text x="160.8" y="411.6" font-size="10.0" text-anchor="start" fill="#111" stroke="#222" stroke-width="0.2">.05</text>
<text x="205.8" y="411.6" font-size="10.0" text-anchor="start" fill="#111" stroke="#222" stroke-width="0.2">.10</text>
<text x="254.8" y="411.6" font-size="10.0" text-anchor="start" fill="#111" stroke="#222" stroke-width="0.2">.15</text>
<text x="11.0" y="345.1" font-size="9.8" text-anchor="middle" fill="#111" stroke="#222" stroke-width="0.2" transform="rotate(-90 11.0 345.1)">propotion of decisions</text>
<text x="20.6" y="348.2" font-size="9.9" text-anchor="middle" fill="#111" stroke="#222" stroke-width="0.2" transform="rotate(-90 20.6 348.2)">for test stimulus</text>
<text x="157.3" y="425.5" font-size="10.0" text-anchor="middle" fill="#111" stroke="#222" stroke-width="0.2">spatial frequency of test stimulus</text>
<text x="149.8" y="435.6" font-size="10.0" text-anchor="middle" fill="#111" stroke="#222" stroke-width="0.2">in cycles/pixel</text>
<text x="251.8" y="361.4" font-size="10.0" text-anchor="middle" fill="#111" stroke="#222" stroke-width="0.2" font-style="italic">standard</text>
<text x="251.3" y="372.8" font-size="10.0" text-anchor="middle" fill="#111" stroke="#222" stroke-width="0.2" font-style="italic">orientation:</text>
<line x1="224.2" y1="380.7" x2="232.0" y2="380.7" stroke="#9a9a9a" stroke-width="1.7"/>
<text x="236.0" y="382.9" font-size="10.0" text-anchor="start" fill="#111" stroke="#222" stroke-width="0.2">horizontal</text>
<line x1="224.2" y1="390.1" x2="232.2" y2="390.1" stroke="#000" stroke-width="2.0"/>
<text x="236.6" y="393.1" font-size="10.0" text-anchor="start" fill="#111" stroke="#222" stroke-width="0.2">vertical</text>
<text x="42.6" y="480.4" font-size="13.1" text-anchor="start" fill="#111" stroke="#222" stroke-width="0.2">Experiment 2</text>
<text transform="translate(1.3 497.0) scale(0.91 1)" font-size="15.9" font-weight="bold" fill="#000">E</text>
<text x="121.3" y="506.8" font-size="10.0" text-anchor="start" fill="#111" stroke="#222" stroke-width="0.2" font-style="italic">location of stimuli</text>
<text x="96.5" y="523.1" font-size="10.0" text-anchor="middle" fill="#111" stroke="#222" stroke-width="0.2">left &amp; right</text>
<text x="218.5" y="522.6" font-size="10.0" text-anchor="middle" fill="#111" stroke="#222" stroke-width="0.2">top &amp; bottom</text>
<line x1="41.5" y1="529.5" x2="41.5" y2="634.3" stroke="#c2c2c2" stroke-width="0.9"/>
<line x1="41.5" y1="634.3" x2="148.0" y2="634.3" stroke="#c2c2c2" stroke-width="0.9"/>
<line x1="41.5" y1="583.25" x2="147.5" y2="583.25" stroke="#c4c4c4" stroke-width="0.7" stroke-dasharray="4.6 2"/>
<line x1="94.5" y1="529.5" x2="94.5" y2="634.3" stroke="#d2d2d2" stroke-width="0.6" stroke-dasharray="6 1.3 1 1.3"/>
<line x1="41.5" y1="617.25" x2="43.0" y2="617.25" stroke="#d0d0d0" stroke-width="0.6"/>
<line x1="41.5" y1="608.5" x2="43.0" y2="608.5" stroke="#d0d0d0" stroke-width="0.6"/>
<line x1="41.5" y1="599.75" x2="43.0" y2="599.75" stroke="#d0d0d0" stroke-width="0.6"/>
<line x1="41.5" y1="591.0" x2="43.0" y2="591.0" stroke="#d0d0d0" stroke-width="0.6"/>
<line x1="41.5" y1="573.5" x2="43.0" y2="573.5" stroke="#d0d0d0" stroke-width="0.6"/>
<line x1="41.5" y1="564.75" x2="43.0" y2="564.75" stroke="#d0d0d0" stroke-width="0.6"/>
<line x1="41.5" y1="556.0" x2="43.0" y2="556.0" stroke="#d0d0d0" stroke-width="0.6"/>
<line x1="41.5" y1="547.25" x2="43.0" y2="547.25" stroke="#d0d0d0" stroke-width="0.6"/>
<line x1="162.5" y1="529.5" x2="162.5" y2="634.3" stroke="#c2c2c2" stroke-width="0.9"/>
<line x1="162.5" y1="634.3" x2="269.0" y2="634.3" stroke="#c2c2c2" stroke-width="0.9"/>
<line x1="162.5" y1="583.25" x2="268.5" y2="583.25" stroke="#c4c4c4" stroke-width="0.7" stroke-dasharray="4.6 2"/>
<line x1="215.8" y1="529.5" x2="215.8" y2="634.3" stroke="#d2d2d2" stroke-width="0.6" stroke-dasharray="6 1.3 1 1.3"/>
<line x1="162.5" y1="617.25" x2="164.0" y2="617.25" stroke="#d0d0d0" stroke-width="0.6"/>
<line x1="162.5" y1="608.5" x2="164.0" y2="608.5" stroke="#d0d0d0" stroke-width="0.6"/>
<line x1="162.5" y1="599.75" x2="164.0" y2="599.75" stroke="#d0d0d0" stroke-width="0.6"/>
<line x1="162.5" y1="591.0" x2="164.0" y2="591.0" stroke="#d0d0d0" stroke-width="0.6"/>
<line x1="162.5" y1="573.5" x2="164.0" y2="573.5" stroke="#d0d0d0" stroke-width="0.6"/>
<line x1="162.5" y1="564.75" x2="164.0" y2="564.75" stroke="#d0d0d0" stroke-width="0.6"/>
<line x1="162.5" y1="556.0" x2="164.0" y2="556.0" stroke="#d0d0d0" stroke-width="0.6"/>
<line x1="162.5" y1="547.25" x2="164.0" y2="547.25" stroke="#d0d0d0" stroke-width="0.6"/>
<polyline points="42.0,626.10 42.5,626.10 43.0,626.10 43.5,626.10 44.0,626.10 44.5,626.10 45.0,626.10 45.5,626.10 46.0,626.10 46.5,626.09 47.0,626.09 47.5,626.08 48.0,626.08 48.5,626.07 49.0,626.06 49.5,626.05 50.0,626.05 50.5,626.04 51.0,626.03 51.5,626.02 52.0,626.01 52.5,625.99 53.0,625.98 53.5,625.97 54.0,625.96 54.5,625.94 55.0,625.93 55.5,625.91 56.0,625.90 56.5,625.88 57.0,625.86 57.5,625.85 58.0,625.83 58.5,625.81 59.0,625.79 59.5,625.77 60.0,625.75 60.5,625.73 61.0,625.71 61.5,625.69 62.0,625.66 62.5,625.64 63.0,625.61 63.5,625.57 64.0,625.53 64.5,625.48 65.0,625.43 65.5,625.36 66.0,625.28 66.5,625.20 67.0,625.10 67.5,625.00 68.0,624.89 68.5,624.77 69.0,624.65 69.5,624.52 70.0,624.37 70.5,624.22 71.0,624.06 71.5,623.88 72.0,623.68 72.5,623.45 73.0,623.19 73.5,622.90 74.0,622.57 74.5,622.22 75.0,621.84 75.5,621.42 76.0,620.97 76.5,620.48 77.0,619.94 77.5,619.35 78.0,618.70 78.5,617.99 79.0,617.23 79.5,616.41 80.0,615.53 80.5,614.61 81.0,613.63 81.5,612.60 82.0,611.50 82.5,610.32 83.0,609.05 83.5,607.70 84.0,606.26 84.5,604.74 85.0,603.14 85.5,601.49 86.0,599.78 86.5,598.02 87.0,596.24 87.5,594.44 88.0,592.65 88.5,590.89 89.0,589.17 89.5,587.50 90.0,585.86 90.5,584.24 91.0,582.60 91.5,580.91 92.0,579.17 92.5,577.39 93.0,575.57 93.5,573.74 94.0,571.92 94.5,570.13 95.0,568.38 95.5,566.67 96.0,565.00 96.5,563.39 97.0,561.82 97.5,560.30 98.0,558.83 98.5,557.41 99.0,556.06 99.5,554.77 100.0,553.54 100.5,552.38 101.0,551.29 101.5,550.26 102.0,549.29 102.5,548.39 103.0,547.54 103.5,546.76 104.0,546.02 104.5,545.34 105.0,544.71 105.5,544.13 106.0,543.58 106.5,543.08 107.0,542.61 107.5,542.17 108.0,541.76 108.5,541.39 109.0,541.05 109.5,540.74 110.0,540.46 110.5,540.20 111.0,539.97 111.5,539.76 112.0,539.57 112.5,539.40 113.0,539.25 113.5,539.12 114.0,539.02 114.5,538.93 115.0,538.86 115.5,538.80 116.0,538.75 116.5,538.70 117.0,538.67 117.5,538.63 118.0,538.60 118.5,538.58 119.0,538.56 119.5,538.55 120.0,538.54 120.5,538.54 121.0,538.54 121.5,538.53 122.0,538.53 122.5,538.53 123.0,538.53 123.5,538.53 124.0,538.53 124.5,538.53 125.0,538.53 125.5,538.53 126.0,538.53 126.5,538.53 127.0,538.53 127.5,538.53 128.0,538.53 128.5,538.53 129.0,538.53 129.5,538.53 130.0,538.53 130.5,538.53 131.0,538.53 131.5,538.53 132.0,538.53 132.5,538.53 133.0,538.53 133.5,538.53 134.0,538.53 134.5,538.53 135.0,538.53 135.5,538.53 136.0,538.53 136.5,538.53 137.0,538.53 137.5,538.53 138.0,538.53 138.5,538.53 139.0,538.53 139.5,538.53 140.0,538.53 140.5,538.53 141.0,538.53 141.5,538.53 142.0,538.53 142.5,538.53 143.0,538.53 143.5,538.53 144.0,538.53 144.5,538.53 145.0,538.53 145.5,538.53 146.0,538.53 146.5,538.53 147.0,538.53 147.5,538.53" fill="none" stroke="#9a9a9a" stroke-width="0.8" stroke-linejoin="round" stroke-linecap="round"/>
<polyline points="42.0,626.10 42.5,626.10 43.0,626.10 43.5,626.10 44.0,626.10 44.5,626.10 45.0,626.10 45.5,626.10 46.0,626.10 46.5,626.10 47.0,626.10 47.5,626.10 48.0,626.09 48.5,626.09 49.0,626.08 49.5,626.08 50.0,626.07 50.5,626.07 51.0,626.06 51.5,626.05 52.0,626.04 52.5,626.04 53.0,626.03 53.5,626.02 54.0,626.01 54.5,626.00 55.0,625.99 55.5,625.98 56.0,625.97 56.5,625.96 57.0,625.95 57.5,625.94 58.0,625.93 58.5,625.92 59.0,625.90 59.5,625.89 60.0,625.88 60.5,625.86 61.0,625.85 61.5,625.83 62.0,625.82 62.5,625.80 63.0,625.78 63.5,625.75 64.0,625.72 64.5,625.68 65.0,625.63 65.5,625.57 66.0,625.51 66.5,625.44 67.0,625.36 67.5,625.28 68.0,625.19 68.5,625.09 69.0,624.99 69.5,624.89 70.0,624.78 70.5,624.66 71.0,624.54 71.5,624.41 72.0,624.27 72.5,624.11 73.0,623.93 73.5,623.75 74.0,623.54 74.5,623.32 75.0,623.09 75.5,622.85 76.0,622.60 76.5,622.34 77.0,622.07 77.5,621.80 78.0,621.52 78.5,621.23 79.0,620.93 79.5,620.63 80.0,620.31 80.5,619.98 81.0,619.63 81.5,619.27 82.0,618.90 82.5,618.51 83.0,618.10 83.5,617.67 84.0,617.22 84.5,616.74 85.0,616.24 85.5,615.71 86.0,615.15 86.5,614.56 87.0,613.95 87.5,613.31 88.0,612.64 88.5,611.95 89.0,611.23 89.5,610.48 90.0,609.69 90.5,608.87 91.0,608.02 91.5,607.15 92.0,606.26 92.5,605.36 93.0,604.46 93.5,603.55 94.0,602.65 94.5,601.74 95.0,600.82 95.5,599.90 96.0,598.96 96.5,598.02 97.0,597.06 97.5,596.09 98.0,595.11 98.5,594.11 99.0,593.11 99.5,592.10 100.0,591.09 100.5,590.07 101.0,589.04 101.5,588.01 102.0,586.97 102.5,585.93 103.0,584.88 103.5,583.83 104.0,582.77 104.5,581.72 105.0,580.66 105.5,579.60 106.0,578.55 106.5,577.50 107.0,576.46 107.5,575.43 108.0,574.42 108.5,573.42 109.0,572.43 109.5,571.46 110.0,570.50 110.5,569.57 111.0,568.65 111.5,567.75 112.0,566.86 112.5,565.99 113.0,565.13 113.5,564.28 114.0,563.45 114.5,562.63 115.0,561.82 115.5,561.03 116.0,560.25 116.5,559.48 117.0,558.74 117.5,558.01 118.0,557.30 118.5,556.60 119.0,555.92 119.5,555.26 120.0,554.62 120.5,554.00 121.0,553.40 121.5,552.82 122.0,552.27 122.5,551.74 123.0,551.24 123.5,550.75 124.0,550.28 124.5,549.83 125.0,549.39 125.5,548.98 126.0,548.57 126.5,548.19 127.0,547.81 127.5,547.45 128.0,547.10 128.5,546.76 129.0,546.43 129.5,546.12 130.0,545.81 130.5,545.52 131.0,545.25 131.5,544.98 132.0,544.73 132.5,544.49 133.0,544.26 133.5,544.03 134.0,543.82 134.5,543.61 135.0,543.42 135.5,543.23 136.0,543.06 136.5,542.89 137.0,542.73 137.5,542.57 138.0,542.42 138.5,542.28 139.0,542.14 139.5,542.01 140.0,541.88 140.5,541.76 141.0,541.65 141.5,541.53 142.0,541.43 142.5,541.32 143.0,541.23 143.5,541.13 144.0,541.04 144.5,540.95 145.0,540.86 145.5,540.78 146.0,540.71 146.5,540.65 147.0,540.60 147.5,540.56" fill="none" stroke="#1c1c1c" stroke-width="0.9" stroke-linejoin="round" stroke-linecap="round"/>
<polyline points="162.8,626.10 163.3,626.10 163.8,626.10 164.3,626.10 164.8,626.10 165.3,626.10 165.8,626.10 166.3,626.10 166.8,626.10 167.3,626.10 167.8,626.10 168.3,626.10 168.8,626.10 169.3,626.10 169.8,626.09 170.3,626.09 170.8,626.09 171.3,626.08 171.8,626.08 172.3,626.07 172.8,626.07 173.3,626.06 173.8,626.06 174.3,626.05 174.8,626.05 175.3,626.04 175.8,626.03 176.3,626.03 176.8,626.02 177.3,626.01 177.8,626.01 178.3,626.00 178.8,625.99 179.3,625.98 179.8,625.97 180.3,625.96 180.8,625.95 181.3,625.94 181.8,625.93 182.3,625.92 182.8,625.91 183.3,625.90 183.8,625.89 184.3,625.88 184.8,625.86 185.3,625.85 185.8,625.84 186.3,625.82 186.8,625.81 187.3,625.79 187.8,625.77 188.3,625.74 188.8,625.71 189.3,625.66 189.8,625.61 190.3,625.54 190.8,625.47 191.3,625.39 191.8,625.29 192.3,625.19 192.8,625.09 193.3,624.97 193.8,624.85 194.3,624.72 194.8,624.58 195.3,624.43 195.8,624.26 196.3,624.07 196.8,623.86 197.3,623.63 197.8,623.37 198.3,623.08 198.8,622.78 199.3,622.46 199.8,622.12 200.3,621.77 200.8,621.39 201.3,620.99 201.8,620.57 202.3,620.12 202.8,619.63 203.3,619.12 203.8,618.57 204.3,618.00 204.8,617.40 205.3,616.78 205.8,616.14 206.3,615.48 206.8,614.79 207.3,614.06 207.8,613.29 208.3,612.47 208.8,611.58 209.3,610.62 209.8,609.59 210.3,608.49 210.8,607.34 211.3,606.15 211.8,604.93 212.3,603.69 212.8,602.45 213.3,601.20 213.8,599.95 214.3,598.71 214.8,597.46 215.3,596.20 215.8,594.92 216.3,593.62 216.8,592.27 217.3,590.89 217.8,589.47 218.3,588.04 218.8,586.60 219.3,585.17 219.8,583.75 220.3,582.35 220.8,580.96 221.3,579.57 221.8,578.19 222.3,576.82 222.8,575.46 223.3,574.11 223.8,572.79 224.3,571.49 224.8,570.22 225.3,568.98 225.8,567.77 226.3,566.58 226.8,565.42 227.3,564.29 227.8,563.17 228.3,562.08 228.8,561.01 229.3,559.95 229.8,558.90 230.3,557.87 230.8,556.86 231.3,555.87 231.8,554.91 232.3,553.98 232.8,553.08 233.3,552.21 233.8,551.38 234.3,550.58 234.8,549.82 235.3,549.08 235.8,548.38 236.3,547.71 236.8,547.07 237.3,546.46 237.8,545.89 238.3,545.34 238.8,544.81 239.3,544.32 239.8,543.85 240.3,543.40 240.8,542.98 241.3,542.58 241.8,542.21 242.3,541.86 242.8,541.53 243.3,541.22 243.8,540.93 244.3,540.66 244.8,540.40 245.3,540.17 245.8,539.96 246.3,539.78 246.8,539.62 247.3,539.48 247.8,539.35 248.3,539.24 248.8,539.13 249.3,539.04 249.8,538.95 250.3,538.88 250.8,538.81 251.3,538.76 251.8,538.72 252.3,538.69 252.8,538.67 253.3,538.65 253.8,538.64 254.3,538.63 254.8,538.63 255.3,538.62 255.8,538.61 256.3,538.61 256.8,538.60 257.3,538.60 257.8,538.59 258.3,538.59 258.8,538.58 259.3,538.58 259.8,538.57 260.3,538.57 260.8,538.57 261.3,538.56 261.8,538.56 262.3,538.56 262.8,538.55 263.3,538.55 263.8,538.55 264.3,538.55 264.8,538.54 265.3,538.54 265.8,538.54 266.3,538.54 266.8,538.54 267.3,538.54 267.8,538.54 268.3,538.54" fill="none" stroke="#9a9a9a" stroke-width="0.8" stroke-linejoin="round" stroke-linecap="round"/>
<polyline points="162.8,626.10 163.3,626.10 163.8,626.10 164.3,626.10 164.8,626.10 165.3,626.10 165.8,626.10 166.3,626.10 166.8,626.09 167.3,626.09 167.8,626.08 168.3,626.07 168.8,626.07 169.3,626.06 169.8,626.05 170.3,626.04 170.8,626.03 171.3,626.01 171.8,626.00 172.3,625.99 172.8,625.97 173.3,625.96 173.8,625.94 174.3,625.93 174.8,625.91 175.3,625.89 175.8,625.88 176.3,625.86 176.8,625.84 177.3,625.82 177.8,625.79 178.3,625.77 178.8,625.73 179.3,625.69 179.8,625.65 180.3,625.59 180.8,625.53 181.3,625.46 181.8,625.39 182.3,625.30 182.8,625.21 183.3,625.11 183.8,625.01 184.3,624.89 184.8,624.76 185.3,624.62 185.8,624.45 186.3,624.26 186.8,624.05 187.3,623.81 187.8,623.56 188.3,623.29 188.8,623.00 189.3,622.69 189.8,622.38 190.3,622.05 190.8,621.70 191.3,621.34 191.8,620.95 192.3,620.55 192.8,620.12 193.3,619.67 193.8,619.21 194.3,618.73 194.8,618.23 195.3,617.73 195.8,617.21 196.3,616.69 196.8,616.15 197.3,615.60 197.8,615.03 198.3,614.45 198.8,613.86 199.3,613.24 199.8,612.61 200.3,611.96 200.8,611.29 201.3,610.60 201.8,609.88 202.3,609.14 202.8,608.37 203.3,607.58 203.8,606.77 204.3,605.95 204.8,605.10 205.3,604.24 205.8,603.36 206.3,602.46 206.8,601.55 207.3,600.62 207.8,599.68 208.3,598.73 208.8,597.77 209.3,596.80 209.8,595.81 210.3,594.81 210.8,593.80 211.3,592.78 211.8,591.74 212.3,590.68 212.8,589.61 213.3,588.53 213.8,587.43 214.3,586.33 214.8,585.22 215.3,584.09 215.8,582.96 216.3,581.83 216.8,580.70 217.3,579.56 217.8,578.42 218.3,577.29 218.8,576.15 219.3,575.00 219.8,573.84 220.3,572.67 220.8,571.50 221.3,570.31 221.8,569.12 222.3,567.94 222.8,566.77 223.3,565.62 223.8,564.49 224.3,563.39 224.8,562.30 225.3,561.24 225.8,560.21 226.3,559.20 226.8,558.22 227.3,557.27 227.8,556.33 228.3,555.43 228.8,554.55 229.3,553.69 229.8,552.85 230.3,552.04 230.8,551.25 231.3,550.49 231.8,549.76 232.3,549.07 232.8,548.41 233.3,547.79 233.8,547.21 234.3,546.65 234.8,546.13 235.3,545.63 235.8,545.16 236.3,544.70 236.8,544.26 237.3,543.84 237.8,543.43 238.3,543.04 238.8,542.66 239.3,542.30 239.8,541.96 240.3,541.64 240.8,541.34 241.3,541.06 241.8,540.81 242.3,540.56 242.8,540.33 243.3,540.12 243.8,539.92 244.3,539.74 244.8,539.57 245.3,539.43 245.8,539.30 246.3,539.19 246.8,539.10 247.3,539.01 247.8,538.94 248.3,538.87 248.8,538.81 249.3,538.75 249.8,538.70 250.3,538.65 250.8,538.62 251.3,538.59 251.8,538.57 252.3,538.55 252.8,538.54 253.3,538.54 253.8,538.54 254.3,538.53 254.8,538.53 255.3,538.53 255.8,538.53 256.3,538.53 256.8,538.53 257.3,538.53 257.8,538.53 258.3,538.53 258.8,538.53 259.3,538.53 259.8,538.53 260.3,538.53 260.8,538.53 261.3,538.53 261.8,538.53 262.3,538.53 262.8,538.53 263.3,538.53 263.8,538.53 264.3,538.53 264.8,538.53 265.3,538.53 265.8,538.53 266.3,538.53 266.8,538.53 267.3,538.53 267.8,538.53 268.3,538.53" fill="none" stroke="#1c1c1c" stroke-width="0.9" stroke-linejoin="round" stroke-linecap="round"/>
<circle cx="84.12" cy="599.75" r="1.5" fill="#d2d2d2" stroke="#6e6e6e" stroke-width="0.9"/>
<circle cx="94.65" cy="573.50" r="1.5" fill="#d2d2d2" stroke="#6e6e6e" stroke-width="0.9"/>
<circle cx="105.18" cy="547.25" r="1.5" fill="#d2d2d2" stroke="#6e6e6e" stroke-width="0.9"/>
<circle cx="115.71" cy="538.50" r="1.5" fill="#d2d2d2" stroke="#6e6e6e" stroke-width="0.9"/>
<circle cx="126.24" cy="538.50" r="1.5" fill="#d2d2d2" stroke="#6e6e6e" stroke-width="0.9"/>
<circle cx="136.77" cy="538.50" r="1.5" fill="#d2d2d2" stroke="#6e6e6e" stroke-width="0.9"/>
<circle cx="42.00" cy="626.00" r="1.85" fill="#000"/>
<circle cx="52.53" cy="626.00" r="1.85" fill="#000"/>
<circle cx="63.06" cy="626.00" r="1.85" fill="#000"/>
<circle cx="73.59" cy="626.00" r="1.85" fill="#000"/>
<circle cx="84.12" cy="617.25" r="1.85" fill="#000"/>
<circle cx="94.65" cy="599.75" r="1.85" fill="#000"/>
<circle cx="105.18" cy="582.25" r="1.85" fill="#000"/>
<circle cx="115.71" cy="547.25" r="1.85" fill="#000"/>
<circle cx="126.24" cy="547.25" r="1.85" fill="#000"/>
<circle cx="136.77" cy="556.00" r="1.85" fill="#000"/>
<circle cx="147.30" cy="538.50" r="1.85" fill="#000"/>
<circle cx="194.36" cy="626.00" r="1.5" fill="#d2d2d2" stroke="#6e6e6e" stroke-width="0.9"/>
<circle cx="204.88" cy="617.25" r="1.5" fill="#d2d2d2" stroke="#6e6e6e" stroke-width="0.9"/>
<circle cx="225.92" cy="564.75" r="1.5" fill="#d2d2d2" stroke="#6e6e6e" stroke-width="0.9"/>
<circle cx="236.44" cy="556.00" r="1.5" fill="#d2d2d2" stroke="#6e6e6e" stroke-width="0.9"/>
<circle cx="162.80" cy="626.00" r="1.85" fill="#000"/>
<circle cx="173.32" cy="626.00" r="1.85" fill="#000"/>
<circle cx="183.84" cy="626.00" r="1.85" fill="#000"/>
<circle cx="194.36" cy="617.25" r="1.85" fill="#000"/>
<circle cx="204.88" cy="599.75" r="1.85" fill="#000"/>
<circle cx="215.40" cy="591.00" r="1.85" fill="#000"/>
<circle cx="225.92" cy="556.00" r="1.85" fill="#000"/>
<circle cx="236.44" cy="547.25" r="1.85" fill="#000"/>
<circle cx="246.96" cy="538.50" r="1.85" fill="#000"/>
<circle cx="257.48" cy="538.50" r="1.85" fill="#000"/>
<circle cx="268.00" cy="538.50" r="1.85" fill="#000"/>
<text x="38.3" y="542.15" font-size="10.0" text-anchor="end" fill="#111" stroke="#222" stroke-width="0.2">1.0</text>
<text x="36.4" y="586.6999999999999" font-size="10.0" text-anchor="end" fill="#111" stroke="#222" stroke-width="0.2">.5</text>
<text x="36.4" y="629.65" font-size="10.0" text-anchor="end" fill="#111" stroke="#222" stroke-width="0.2">.0</text>
<text x="40.8" y="646.6" font-size="10.0" text-anchor="start" fill="#111" stroke="#222" stroke-width="0.2">.05</text>
<text x="84.2" y="646.6" font-size="10.0" text-anchor="start" fill="#111" stroke="#222" stroke-width="0.2">.10</text>
<text x="133.2" y="646.6" font-size="10.0" text-anchor="start" fill="#111" stroke="#222" stroke-width="0.2">.15</text>
<text x="160.8" y="646.6" font-size="10.0" text-anchor="start" fill="#111" stroke="#222" stroke-width="0.2">.05</text>
<text x="205.8" y="646.6" font-size="10.0" text-anchor="start" fill="#111" stroke="#222" stroke-width="0.2">.10</text>
<text x="254.8" y="646.6" font-size="10.0" text-anchor="start" fill="#111" stroke="#222" stroke-width="0.2">.15</text>
<text x="50.0" y="658.5" font-size="10.0" text-anchor="middle" fill="#111" stroke="#222" stroke-width="0.2">(1.8)</text>
<text x="94.3" y="658.5" font-size="10.0" text-anchor="middle" fill="#111" stroke="#222" stroke-width="0.2">(3.7)</text>
<text x="143.0" y="658.5" font-size="10.0" text-anchor="middle" fill="#111" stroke="#222" stroke-width="0.2">(5.5)</text>
<text x="169.8" y="658.5" font-size="10.0" text-anchor="middle" fill="#111" stroke="#222" stroke-width="0.2">(1.8)</text>
<text x="214.3" y="658.5" font-size="10.0" text-anchor="middle" fill="#111" stroke="#222" stroke-width="0.2">(3.7)</text>
<text x="262.5" y="658.5" font-size="10.0" text-anchor="middle" fill="#111" stroke="#222" stroke-width="0.2">(5.5)</text>
<text x="11.0" y="580.4" font-size="9.8" text-anchor="middle" fill="#111" stroke="#222" stroke-width="0.2" transform="rotate(-90 11.0 580.4)">propotion of decisions</text>
<text x="20.6" y="583.4" font-size="9.9" text-anchor="middle" fill="#111" stroke="#222" stroke-width="0.2" transform="rotate(-90 20.6 583.4)">for test stimulus</text>
<text x="157.5" y="674.5" font-size="10.0" text-anchor="middle" fill="#111" stroke="#222" stroke-width="0.2">spatial frequency of test stimulus</text>
<text x="155.7" y="684.6" font-size="10.0" text-anchor="middle" fill="#111" stroke="#222" stroke-width="0.2">in cycles/pixel (cycles/degree)</text>
<text x="251.8" y="596.8" font-size="10.0" text-anchor="middle" fill="#111" stroke="#222" stroke-width="0.2" font-style="italic">standard</text>
<text x="251.3" y="608.2" font-size="10.0" text-anchor="middle" fill="#111" stroke="#222" stroke-width="0.2" font-style="italic">orientation:</text>
<line x1="224.2" y1="616.1" x2="232.0" y2="616.1" stroke="#9a9a9a" stroke-width="1.7"/>
<text x="236.0" y="618.3" font-size="10.0" text-anchor="start" fill="#111" stroke="#222" stroke-width="0.2">horizontal</text>
<line x1="224.2" y1="625.5" x2="232.2" y2="625.5" stroke="#000" stroke-width="2.0"/>
<text x="236.6" y="628.5" font-size="10.0" text-anchor="start" fill="#111" stroke="#222" stroke-width="0.2">vertical</text>
<text transform="translate(302.6 261.3) scale(0.91 1)" font-size="15.9" font-weight="bold" fill="#000">C</text>
<text x="361.2" y="274.5" font-size="10.0" text-anchor="start" fill="#111" stroke="#222" stroke-width="0.2" font-style="italic">standard orientation</text>
<rect x="381.5" y="282.0" width="5.0" height="4.9" fill="#8c8c8c" stroke="#1e1e1e" stroke-width="1.15"/>
<text x="392.0" y="286.9" font-size="10.0" text-anchor="start" fill="#111" stroke="#222" stroke-width="0.2">horizontal</text>
<rect x="380.9" y="290.1" width="6.2" height="5.9" fill="#000"/>
<text x="392.4" y="295.6" font-size="10.0" text-anchor="start" fill="#111" stroke="#222" stroke-width="0.2">vertical</text>
<line x1="341.1" y1="409.0" x2="467.0" y2="409.0" stroke="#9a9a9a" stroke-width="1.0"/>
<line x1="341.1" y1="409.0" x2="344.5" y2="409.0" stroke="#b4b4b4" stroke-width="0.8"/>
<line x1="342.6" y1="401.2" x2="344.5" y2="401.2" stroke="#3c3c3c" stroke-width="0.8"/>
<line x1="341.1" y1="393.4" x2="344.5" y2="393.4" stroke="#b4b4b4" stroke-width="0.8"/>
<line x1="342.6" y1="385.6" x2="344.5" y2="385.6" stroke="#3c3c3c" stroke-width="0.8"/>
<line x1="341.1" y1="377.8" x2="344.5" y2="377.8" stroke="#b4b4b4" stroke-width="0.8"/>
<line x1="342.6" y1="370.0" x2="344.5" y2="370.0" stroke="#3c3c3c" stroke-width="0.8"/>
<line x1="341.1" y1="362.2" x2="344.5" y2="362.2" stroke="#b4b4b4" stroke-width="0.8"/>
<line x1="342.6" y1="354.4" x2="344.5" y2="354.4" stroke="#3c3c3c" stroke-width="0.8"/>
<line x1="341.1" y1="346.6" x2="344.5" y2="346.6" stroke="#b4b4b4" stroke-width="0.8"/>
<line x1="342.6" y1="338.8" x2="344.5" y2="338.8" stroke="#3c3c3c" stroke-width="0.8"/>
<line x1="341.1" y1="331.0" x2="344.5" y2="331.0" stroke="#b4b4b4" stroke-width="0.8"/>
<line x1="342.6" y1="323.2" x2="344.5" y2="323.2" stroke="#3c3c3c" stroke-width="0.8"/>
<line x1="341.1" y1="315.4" x2="344.5" y2="315.4" stroke="#b4b4b4" stroke-width="0.8"/>
<line x1="342.6" y1="307.6" x2="344.5" y2="307.6" stroke="#3c3c3c" stroke-width="0.8"/>
<line x1="344.5" y1="305.5" x2="344.5" y2="409.5" stroke="#4a4a4a" stroke-width="1.1"/>
<text x="339.8" y="411.3" font-size="9.9" text-anchor="end" fill="#111" stroke="#222" stroke-width="0.2">.00</text>
<text x="339.8" y="395.7" font-size="9.9" text-anchor="end" fill="#111" stroke="#222" stroke-width="0.2">.02</text>
<text x="339.8" y="380.1" font-size="9.9" text-anchor="end" fill="#111" stroke="#222" stroke-width="0.2">.04</text>
<text x="339.8" y="364.5" font-size="9.9" text-anchor="end" fill="#111" stroke="#222" stroke-width="0.2">.06</text>
<text x="339.8" y="348.90000000000003" font-size="9.9" text-anchor="end" fill="#111" stroke="#222" stroke-width="0.2">.08</text>
<text x="339.8" y="333.3" font-size="9.9" text-anchor="end" fill="#111" stroke="#222" stroke-width="0.2">.10</text>
<text x="339.8" y="317.7" font-size="9.9" text-anchor="end" fill="#111" stroke="#222" stroke-width="0.2">.12</text>
<rect x="351.6" y="335.6" width="20.49999999999999" height="73.5" fill="#8c8c8c" stroke="#151515" stroke-width="1.25"/>
<line x1="361.8" y1="333.4" x2="361.8" y2="336.9" stroke="#111" stroke-width="1.2"/>
<line x1="358.8" y1="333.4" x2="364.8" y2="333.4" stroke="#111" stroke-width="1.1"/>
<line x1="358.8" y1="336.9" x2="364.8" y2="336.9" stroke="#111" stroke-width="1.1"/>
<rect x="374.5" y="325.5" width="21.899999999999977" height="84.0" fill="#000"/>
<line x1="385.5" y1="323.6" x2="385.5" y2="326.0" stroke="#111" stroke-width="1.2"/>
<line x1="382.5" y1="323.6" x2="388.5" y2="323.6" stroke="#111" stroke-width="1.1"/>
<rect x="415.20000000000005" y="325.6" width="20.8" height="83.5" fill="#8c8c8c" stroke="#151515" stroke-width="1.25"/>
<line x1="426.0" y1="323.2" x2="426.0" y2="327.4" stroke="#111" stroke-width="1.2"/>
<line x1="423.0" y1="323.2" x2="429.0" y2="323.2" stroke="#111" stroke-width="1.1"/>
<line x1="423.0" y1="327.4" x2="429.0" y2="327.4" stroke="#111" stroke-width="1.1"/>
<rect x="438.1" y="332.0" width="21.899999999999977" height="77.5" fill="#000"/>
<line x1="449.2" y1="330.6" x2="449.2" y2="333.0" stroke="#111" stroke-width="1.2"/>
<line x1="446.2" y1="330.6" x2="452.2" y2="330.6" stroke="#111" stroke-width="1.1"/>
<line x1="374.0" y1="409.0" x2="374.0" y2="412.2" stroke="#777" stroke-width="0.9"/>
<line x1="437.5" y1="409.0" x2="437.5" y2="412.2" stroke="#777" stroke-width="0.9"/>
<path d="M363.4 320.6 L363.4 316.5 L385.6 316.5 L385.6 320.6" fill="none" stroke="#2a2a2a" stroke-width="0.9" stroke-linejoin="miter"/>
<text x="375.6" y="318.90000000000003" font-size="17" text-anchor="middle" fill="#111" font-weight="bold">*</text>
<path d="M426.9 320.6 L426.9 316.5 L448.4 316.5 L448.4 320.6" fill="none" stroke="#2a2a2a" stroke-width="0.9" stroke-linejoin="miter"/>
<text x="438.3" y="318.90000000000003" font-size="17" text-anchor="middle" fill="#111" font-weight="bold">*</text>
<text x="322.6" y="360.0" font-size="10.0" text-anchor="middle" fill="#111" stroke="#222" stroke-width="0.2" transform="rotate(-90 322.6 360.0)">PSE in cycles/pixel</text>
<text x="372.5" y="423.1" font-size="10.0" text-anchor="middle" fill="#111" stroke="#222" stroke-width="0.2">left &amp; right</text>
<text x="442.1" y="423.1" font-size="10.0" text-anchor="middle" fill="#111" stroke="#222" stroke-width="0.2">top &amp; bottom</text>
<text x="408.7" y="434.1" font-size="10.0" text-anchor="middle" fill="#111" stroke="#222" stroke-width="0.2" font-style="italic">location of stimuli</text>
<text transform="translate(303.4 496.0) scale(0.91 1)" font-size="15.9" font-weight="bold" fill="#000">F</text>
<text x="333.0" y="518.7" font-size="10.0" text-anchor="start" fill="#111" stroke="#222" stroke-width="0.2" font-style="italic">standard orientation</text>
<rect x="352.8" y="525.7" width="5.0" height="4.9" fill="#8c8c8c" stroke="#1e1e1e" stroke-width="1.15"/>
<text x="363.5" y="531.1" font-size="10.0" text-anchor="start" fill="#111" stroke="#222" stroke-width="0.2">horizontal</text>
<rect x="352.3" y="533.6" width="6.1" height="5.9" fill="#000"/>
<text x="363.9" y="539.5" font-size="10.0" text-anchor="start" fill="#111" stroke="#222" stroke-width="0.2">vertical</text>
<line x1="314.0" y1="649.7" x2="440.0" y2="649.7" stroke="#9a9a9a" stroke-width="1.0"/>
<line x1="314.0" y1="649.7" x2="317.4" y2="649.7" stroke="#b4b4b4" stroke-width="0.8"/>
<line x1="315.5" y1="641.9200000000001" x2="317.4" y2="641.9200000000001" stroke="#3c3c3c" stroke-width="0.8"/>
<line x1="314.0" y1="634.1400000000001" x2="317.4" y2="634.1400000000001" stroke="#b4b4b4" stroke-width="0.8"/>
<line x1="315.5" y1="626.36" x2="317.4" y2="626.36" stroke="#3c3c3c" stroke-width="0.8"/>
<line x1="314.0" y1="618.58" x2="317.4" y2="618.58" stroke="#b4b4b4" stroke-width="0.8"/>
<line x1="315.5" y1="610.8000000000001" x2="317.4" y2="610.8000000000001" stroke="#3c3c3c" stroke-width="0.8"/>
<line x1="314.0" y1="603.0200000000001" x2="317.4" y2="603.0200000000001" stroke="#b4b4b4" stroke-width="0.8"/>
<line x1="315.5" y1="595.24" x2="317.4" y2="595.24" stroke="#3c3c3c" stroke-width="0.8"/>
<line x1="314.0" y1="587.46" x2="317.4" y2="587.46" stroke="#b4b4b4" stroke-width="0.8"/>
<line x1="315.5" y1="579.6800000000001" x2="317.4" y2="579.6800000000001" stroke="#3c3c3c" stroke-width="0.8"/>
<line x1="314.0" y1="571.9000000000001" x2="317.4" y2="571.9000000000001" stroke="#b4b4b4" stroke-width="0.8"/>
<line x1="315.5" y1="564.12" x2="317.4" y2="564.12" stroke="#3c3c3c" stroke-width="0.8"/>
<line x1="314.0" y1="556.34" x2="317.4" y2="556.34" stroke="#b4b4b4" stroke-width="0.8"/>
<line x1="315.5" y1="548.5600000000001" x2="317.4" y2="548.5600000000001" stroke="#3c3c3c" stroke-width="0.8"/>
<line x1="317.4" y1="546.0" x2="317.4" y2="650.2" stroke="#4a4a4a" stroke-width="1.1"/>
<text x="312.2" y="653.5" font-size="9.9" text-anchor="end" fill="#111" stroke="#222" stroke-width="0.2">.00</text>
<text x="312.2" y="637.94" font-size="9.9" text-anchor="end" fill="#111" stroke="#222" stroke-width="0.2">.02</text>
<text x="312.2" y="622.38" font-size="9.9" text-anchor="end" fill="#111" stroke="#222" stroke-width="0.2">.04</text>
<text x="312.2" y="606.82" font-size="9.9" text-anchor="end" fill="#111" stroke="#222" stroke-width="0.2">.06</text>
<text x="312.2" y="591.26" font-size="9.9" text-anchor="end" fill="#111" stroke="#222" stroke-width="0.2">.08</text>
<text x="312.2" y="575.7" font-size="9.9" text-anchor="end" fill="#111" stroke="#222" stroke-width="0.2">.10</text>
<text x="312.2" y="560.14" font-size="9.9" text-anchor="end" fill="#111" stroke="#222" stroke-width="0.2">.12</text>
<rect x="324.90000000000003" y="574.2" width="20.3" height="75.60000000000002" fill="#8c8c8c" stroke="#151515" stroke-width="1.25"/>
<line x1="335.0" y1="571.8" x2="335.0" y2="575.7" stroke="#111" stroke-width="1.2"/>
<line x1="332.0" y1="571.8" x2="338.0" y2="571.8" stroke="#111" stroke-width="1.1"/>
<line x1="332.0" y1="575.7" x2="338.0" y2="575.7" stroke="#111" stroke-width="1.1"/>
<rect x="347.5" y="567.9" width="21.80000000000001" height="82.30000000000007" fill="#000"/>
<line x1="358.3" y1="566.6" x2="358.3" y2="568.5" stroke="#111" stroke-width="1.2"/>
<line x1="355.3" y1="566.6" x2="361.3" y2="566.6" stroke="#111" stroke-width="1.1"/>
<rect x="387.8" y="567.1" width="20.49999999999999" height="82.70000000000005" fill="#8c8c8c" stroke="#151515" stroke-width="1.25"/>
<line x1="398.5" y1="565.1" x2="398.5" y2="568.1" stroke="#111" stroke-width="1.2"/>
<line x1="395.5" y1="565.1" x2="401.5" y2="565.1" stroke="#111" stroke-width="1.1"/>
<line x1="395.5" y1="568.1" x2="401.5" y2="568.1" stroke="#111" stroke-width="1.1"/>
<rect x="410.6" y="574.0" width="21.899999999999977" height="76.20000000000005" fill="#000"/>
<line x1="421.5" y1="572.5" x2="421.5" y2="575.0" stroke="#111" stroke-width="1.2"/>
<line x1="418.5" y1="572.5" x2="424.5" y2="572.5" stroke="#111" stroke-width="1.1"/>
<line x1="346.8" y1="649.7" x2="346.8" y2="652.8" stroke="#777" stroke-width="0.9"/>
<line x1="409.5" y1="649.7" x2="409.5" y2="652.8" stroke="#777" stroke-width="0.9"/>
<path d="M398.5 561.3 L398.5 557.4 L420.6 557.4 L420.6 561.3" fill="none" stroke="#2a2a2a" stroke-width="0.9" stroke-linejoin="miter"/>
<text x="410.0" y="560.1999999999999" font-size="17" text-anchor="middle" fill="#111" font-weight="bold">*</text>
<line x1="436.3" y1="649.7" x2="440.3" y2="649.7" stroke="#b4b4b4" stroke-width="0.8"/>
<line x1="438.1" y1="641.9200000000001" x2="440.3" y2="641.9200000000001" stroke="#333" stroke-width="0.8"/>
<line x1="436.3" y1="634.1400000000001" x2="440.3" y2="634.1400000000001" stroke="#b4b4b4" stroke-width="0.8"/>
<line x1="438.1" y1="626.36" x2="440.3" y2="626.36" stroke="#333" stroke-width="0.8"/>
<line x1="436.3" y1="618.58" x2="440.3" y2="618.58" stroke="#b4b4b4" stroke-width="0.8"/>
<line x1="438.1" y1="610.8000000000001" x2="440.3" y2="610.8000000000001" stroke="#333" stroke-width="0.8"/>
<line x1="436.3" y1="603.0200000000001" x2="440.3" y2="603.0200000000001" stroke="#b4b4b4" stroke-width="0.8"/>
<line x1="438.1" y1="595.24" x2="440.3" y2="595.24" stroke="#333" stroke-width="0.8"/>
<line x1="436.3" y1="587.46" x2="440.3" y2="587.46" stroke="#b4b4b4" stroke-width="0.8"/>
<line x1="438.1" y1="579.6800000000001" x2="440.3" y2="579.6800000000001" stroke="#333" stroke-width="0.8"/>
<line x1="436.3" y1="571.9000000000001" x2="440.3" y2="571.9000000000001" stroke="#b4b4b4" stroke-width="0.8"/>
<line x1="438.1" y1="564.12" x2="440.3" y2="564.12" stroke="#333" stroke-width="0.8"/>
<line x1="436.3" y1="556.34" x2="440.3" y2="556.34" stroke="#b4b4b4" stroke-width="0.8"/>
<line x1="438.1" y1="548.5600000000001" x2="440.3" y2="548.5600000000001" stroke="#333" stroke-width="0.8"/>
<line x1="440.4" y1="546.0" x2="440.4" y2="650.2" stroke="#858585" stroke-width="1.1"/>
<text x="457.8" y="652.1" font-size="9.9" text-anchor="end" fill="#111" stroke="#222" stroke-width="0.2">.0</text>
<text x="457.8" y="636.5400000000001" font-size="9.9" text-anchor="end" fill="#111" stroke="#222" stroke-width="0.2">.7</text>
<text x="457.8" y="620.98" font-size="9.9" text-anchor="end" fill="#111" stroke="#222" stroke-width="0.2">1.5</text>
<text x="457.8" y="605.4200000000001" font-size="9.9" text-anchor="end" fill="#111" stroke="#222" stroke-width="0.2">2.2</text>
<text x="457.8" y="589.86" font-size="9.9" text-anchor="end" fill="#111" stroke="#222" stroke-width="0.2">2.9</text>
<text x="457.8" y="574.3000000000001" font-size="9.9" text-anchor="end" fill="#111" stroke="#222" stroke-width="0.2">3.7</text>
<text x="457.8" y="558.74" font-size="9.9" text-anchor="end" fill="#111" stroke="#222" stroke-width="0.2">4.4</text>
<text x="461.6" y="601.0" font-size="10.0" text-anchor="middle" fill="#111" stroke="#222" stroke-width="0.2" transform="rotate(90 461.6 601.0)">cycles/degree</text>
<text x="294.3" y="600.5" font-size="10.0" text-anchor="middle" fill="#111" stroke="#222" stroke-width="0.2" transform="rotate(-90 294.3 600.5)">PSE in cycles/pixel</text>
<text x="347.8" y="663.1" font-size="10.0" text-anchor="middle" fill="#111" stroke="#222" stroke-width="0.2">left &amp; right</text>
<text x="412.3" y="663.1" font-size="10.0" text-anchor="middle" fill="#111" stroke="#222" stroke-width="0.2">top &amp; bottom</text>
<text x="385.6" y="674.8" font-size="10.0" text-anchor="middle" fill="#111" stroke="#222" stroke-width="0.2" font-style="italic">location of stimuli</text>
<text transform="translate(492.0 259.9) scale(0.91 1)" font-size="15.9" font-weight="bold" fill="#000">D</text>
<line x1="526.6" y1="394.8" x2="529.6" y2="394.8" stroke="#aaa" stroke-width="0.8"/>
<line x1="527.6" y1="385.3" x2="529.6" y2="385.3" stroke="#333" stroke-width="0.8"/>
<line x1="526.6" y1="375.8" x2="529.6" y2="375.8" stroke="#aaa" stroke-width="0.8"/>
<line x1="527.6" y1="366.3" x2="529.6" y2="366.3" stroke="#333" stroke-width="0.8"/>
<line x1="526.6" y1="356.8" x2="529.6" y2="356.8" stroke="#aaa" stroke-width="0.8"/>
<line x1="527.6" y1="347.3" x2="529.6" y2="347.3" stroke="#333" stroke-width="0.8"/>
<line x1="526.6" y1="337.8" x2="529.6" y2="337.8" stroke="#aaa" stroke-width="0.8"/>
<line x1="527.6" y1="328.3" x2="529.6" y2="328.3" stroke="#333" stroke-width="0.8"/>
<line x1="526.6" y1="318.8" x2="529.6" y2="318.8" stroke="#aaa" stroke-width="0.8"/>
<line x1="527.6" y1="309.3" x2="529.6" y2="309.3" stroke="#333" stroke-width="0.8"/>
<line x1="526.6" y1="299.8" x2="529.6" y2="299.8" stroke="#aaa" stroke-width="0.8"/>
<line x1="527.6" y1="290.3" x2="529.6" y2="290.3" stroke="#333" stroke-width="0.8"/>
<line x1="535.3" y1="394.8" x2="535.3" y2="397.8" stroke="#aaa" stroke-width="0.8"/>
<line x1="557.0" y1="394.8" x2="557.0" y2="397.8" stroke="#aaa" stroke-width="0.8"/>
<line x1="578.2" y1="394.8" x2="578.2" y2="397.8" stroke="#aaa" stroke-width="0.8"/>
<line x1="599.5" y1="394.8" x2="599.5" y2="397.8" stroke="#aaa" stroke-width="0.8"/>
<line x1="621.0" y1="394.8" x2="621.0" y2="397.8" stroke="#aaa" stroke-width="0.8"/>
<line x1="642.7" y1="394.8" x2="642.7" y2="397.8" stroke="#aaa" stroke-width="0.8"/>
<line x1="546.4" y1="394.8" x2="546.4" y2="396.8" stroke="#333" stroke-width="0.8"/>
<line x1="567.6" y1="394.8" x2="567.6" y2="396.8" stroke="#333" stroke-width="0.8"/>
<line x1="589.1" y1="394.8" x2="589.1" y2="396.8" stroke="#333" stroke-width="0.8"/>
<line x1="610.4" y1="394.8" x2="610.4" y2="396.8" stroke="#333" stroke-width="0.8"/>
<line x1="631.8" y1="394.8" x2="631.8" y2="396.8" stroke="#333" stroke-width="0.8"/>
<line x1="529.6" y1="289.5" x2="529.6" y2="395.4" stroke="#4a4a4a" stroke-width="1.15"/>
<line x1="529.0" y1="394.65" x2="648.6" y2="394.65" stroke="#4a4a4a" stroke-width="1.15"/>
<text x="517.3" y="398.40000000000003" font-size="9.9" text-anchor="middle" fill="#111" stroke="#222" stroke-width="0.2">-.05</text>
<text x="517.3" y="379.40000000000003" font-size="9.9" text-anchor="middle" fill="#111" stroke="#222" stroke-width="0.2">-.03</text>
<text x="518.0" y="360.40000000000003" font-size="9.9" text-anchor="middle" fill="#111" stroke="#222" stroke-width="0.2">-.01</text>
<text x="517.8" y="341.40000000000003" font-size="9.9" text-anchor="middle" fill="#111" stroke="#222" stroke-width="0.2">.01</text>
<text x="517.0999999999999" y="322.40000000000003" font-size="9.9" text-anchor="middle" fill="#111" stroke="#222" stroke-width="0.2">.03</text>
<text x="517.0999999999999" y="303.40000000000003" font-size="9.9" text-anchor="middle" fill="#111" stroke="#222" stroke-width="0.2">.05</text>
<text x="539.8" y="408.1" font-size="9.9" text-anchor="middle" fill="#111" stroke="#222" stroke-width="0.2">-.07</text>
<text x="561.7" y="408.1" font-size="9.9" text-anchor="middle" fill="#111" stroke="#222" stroke-width="0.2">-.05</text>
<text x="582.6" y="408.1" font-size="9.9" text-anchor="middle" fill="#111" stroke="#222" stroke-width="0.2">-.03</text>
<text x="604.4" y="408.1" font-size="9.9" text-anchor="middle" fill="#111" stroke="#222" stroke-width="0.2">-.01</text>
<text x="624.5" y="408.1" font-size="9.9" text-anchor="middle" fill="#111" stroke="#222" stroke-width="0.2">.01</text>
<text x="645.4" y="408.1" font-size="9.9" text-anchor="middle" fill="#111" stroke="#222" stroke-width="0.2">.03</text>
<circle cx="548" cy="377.3" r="2.05" fill="#8a8a8a" stroke="#2c2c2c" stroke-width="1.05"/>
<circle cx="556.5" cy="364.5" r="2.05" fill="#8a8a8a" stroke="#2c2c2c" stroke-width="1.05"/>
<circle cx="568.5" cy="340.3" r="2.05" fill="#8a8a8a" stroke="#2c2c2c" stroke-width="1.05"/>
<circle cx="580" cy="339.3" r="2.05" fill="#8a8a8a" stroke="#2c2c2c" stroke-width="1.05"/>
<circle cx="579.3" cy="348.8" r="2.05" fill="#8a8a8a" stroke="#2c2c2c" stroke-width="1.05"/>
<circle cx="581.3" cy="346.5" r="2.05" fill="#8a8a8a" stroke="#2c2c2c" stroke-width="1.05"/>
<circle cx="582.8" cy="348" r="2.05" fill="#8a8a8a" stroke="#2c2c2c" stroke-width="1.05"/>
<circle cx="589.8" cy="347.8" r="2.05" fill="#8a8a8a" stroke="#2c2c2c" stroke-width="1.05"/>
<circle cx="585.3" cy="374" r="2.05" fill="#8a8a8a" stroke="#2c2c2c" stroke-width="1.05"/>
<circle cx="599.2" cy="333.3" r="2.05" fill="#8a8a8a" stroke="#2c2c2c" stroke-width="1.05"/>
<circle cx="603.8" cy="340.5" r="2.05" fill="#8a8a8a" stroke="#2c2c2c" stroke-width="1.05"/>
<circle cx="604.4" cy="322.1" r="2.05" fill="#8a8a8a" stroke="#2c2c2c" stroke-width="1.05"/>
<circle cx="605.0" cy="328" r="2.05" fill="#8a8a8a" stroke="#2c2c2c" stroke-width="1.05"/>
<circle cx="607.5" cy="327.4" r="2.05" fill="#8a8a8a" stroke="#2c2c2c" stroke-width="1.05"/>
<circle cx="609.8" cy="309.9" r="2.05" fill="#8a8a8a" stroke="#2c2c2c" stroke-width="1.05"/>
<circle cx="610.6" cy="348.5" r="2.05" fill="#8a8a8a" stroke="#2c2c2c" stroke-width="1.05"/>
<circle cx="614.2" cy="317.4" r="2.05" fill="#8a8a8a" stroke="#2c2c2c" stroke-width="1.05"/>
<circle cx="620.2" cy="330" r="2.05" fill="#8a8a8a" stroke="#2c2c2c" stroke-width="1.05"/>
<circle cx="622.5" cy="335.4" r="2.05" fill="#8a8a8a" stroke="#2c2c2c" stroke-width="1.05"/>
<circle cx="627.1" cy="334.2" r="2.05" fill="#8a8a8a" stroke="#2c2c2c" stroke-width="1.05"/>
<circle cx="624.3" cy="317.2" r="2.05" fill="#8a8a8a" stroke="#2c2c2c" stroke-width="1.05"/>
<circle cx="630.4" cy="315.3" r="2.05" fill="#8a8a8a" stroke="#2c2c2c" stroke-width="1.05"/>
<line x1="529.6" y1="379.3" x2="648.4" y2="307.7" stroke="#111" stroke-width="1.45"/>
<line x1="566.0" y1="326.2" x2="571.116304960021" y2="330.63761144491616" stroke="#111" stroke-width="1.05"/>
<path d="M575.80 334.70 L569.15 332.90 L573.08 328.37 Z" fill="#000"/>
<text x="502.6" y="347.8" font-size="10.0" text-anchor="middle" fill="#111" stroke="#222" stroke-width="0.2" transform="rotate(-90 502.6 347.8)">top &amp; down (horizontal - vertical)</text>
<text x="590.8" y="422.6" font-size="10.0" text-anchor="middle" fill="#111" stroke="#222" stroke-width="0.2">left &amp; right (horizontal - vertical)</text>
<text transform="translate(493.2 494.9) scale(0.91 1)" font-size="15.9" font-weight="bold" fill="#000">G</text>
<text x="585.9" y="524.6" font-size="10.0" text-anchor="middle" fill="#111" stroke="#222" stroke-width="0.2">cycles/degree</text>
<line x1="526.3" y1="639.4" x2="526.3" y2="642.4" stroke="#aaa" stroke-width="0.8"/>
<line x1="547.5" y1="639.4" x2="547.5" y2="642.4" stroke="#aaa" stroke-width="0.8"/>
<line x1="568.9" y1="639.4" x2="568.9" y2="642.4" stroke="#aaa" stroke-width="0.8"/>
<line x1="590.2" y1="639.4" x2="590.2" y2="642.4" stroke="#aaa" stroke-width="0.8"/>
<line x1="611.3" y1="639.4" x2="611.3" y2="642.4" stroke="#aaa" stroke-width="0.8"/>
<line x1="632.5" y1="639.4" x2="632.5" y2="642.4" stroke="#aaa" stroke-width="0.8"/>
<line x1="536.9" y1="639.4" x2="536.9" y2="641.4" stroke="#333" stroke-width="0.8"/>
<line x1="558.2" y1="639.4" x2="558.2" y2="641.4" stroke="#333" stroke-width="0.8"/>
<line x1="579.6" y1="639.4" x2="579.6" y2="641.4" stroke="#333" stroke-width="0.8"/>
<line x1="600.7" y1="639.4" x2="600.7" y2="641.4" stroke="#333" stroke-width="0.8"/>
<line x1="621.8" y1="639.4" x2="621.8" y2="641.4" stroke="#333" stroke-width="0.8"/>
<line x1="526.3" y1="539.6" x2="526.3" y2="542.6" stroke="#aaa" stroke-width="0.8"/>
<line x1="547.5" y1="539.6" x2="547.5" y2="542.6" stroke="#aaa" stroke-width="0.8"/>
<line x1="568.9" y1="539.6" x2="568.9" y2="542.6" stroke="#aaa" stroke-width="0.8"/>
<line x1="590.2" y1="539.6" x2="590.2" y2="542.6" stroke="#aaa" stroke-width="0.8"/>
<line x1="611.3" y1="539.6" x2="611.3" y2="542.6" stroke="#aaa" stroke-width="0.8"/>
<line x1="632.5" y1="539.6" x2="632.5" y2="542.6" stroke="#aaa" stroke-width="0.8"/>
<line x1="536.9" y1="539.6" x2="536.9" y2="541.6" stroke="#333" stroke-width="0.8"/>
<line x1="558.2" y1="539.6" x2="558.2" y2="541.6" stroke="#333" stroke-width="0.8"/>
<line x1="579.6" y1="539.6" x2="579.6" y2="541.6" stroke="#333" stroke-width="0.8"/>
<line x1="600.7" y1="539.6" x2="600.7" y2="541.6" stroke="#333" stroke-width="0.8"/>
<line x1="621.8" y1="539.6" x2="621.8" y2="541.6" stroke="#333" stroke-width="0.8"/>
<line x1="517.5" y1="639.4" x2="520.5" y2="639.4" stroke="#aaa" stroke-width="0.8"/>
<line x1="518.5" y1="630.425" x2="520.5" y2="630.425" stroke="#333" stroke-width="0.8"/>
<line x1="517.5" y1="621.4499999999999" x2="520.5" y2="621.4499999999999" stroke="#aaa" stroke-width="0.8"/>
<line x1="518.5" y1="612.475" x2="520.5" y2="612.475" stroke="#333" stroke-width="0.8"/>
<line x1="517.5" y1="603.5" x2="520.5" y2="603.5" stroke="#aaa" stroke-width="0.8"/>
<line x1="518.5" y1="594.525" x2="520.5" y2="594.525" stroke="#333" stroke-width="0.8"/>
<line x1="517.5" y1="585.55" x2="520.5" y2="585.55" stroke="#aaa" stroke-width="0.8"/>
<line x1="518.5" y1="576.5749999999999" x2="520.5" y2="576.5749999999999" stroke="#333" stroke-width="0.8"/>
<line x1="517.5" y1="567.6" x2="520.5" y2="567.6" stroke="#aaa" stroke-width="0.8"/>
<line x1="518.5" y1="558.625" x2="520.5" y2="558.625" stroke="#333" stroke-width="0.8"/>
<line x1="517.5" y1="549.65" x2="520.5" y2="549.65" stroke="#aaa" stroke-width="0.8"/>
<line x1="518.5" y1="540.675" x2="520.5" y2="540.675" stroke="#333" stroke-width="0.8"/>
<line x1="635.6" y1="639.4" x2="638.6" y2="639.4" stroke="#aaa" stroke-width="0.8"/>
<line x1="636.6" y1="630.425" x2="638.6" y2="630.425" stroke="#333" stroke-width="0.8"/>
<line x1="635.6" y1="621.4499999999999" x2="638.6" y2="621.4499999999999" stroke="#aaa" stroke-width="0.8"/>
<line x1="636.6" y1="612.475" x2="638.6" y2="612.475" stroke="#333" stroke-width="0.8"/>
<line x1="635.6" y1="603.5" x2="638.6" y2="603.5" stroke="#aaa" stroke-width="0.8"/>
<line x1="636.6" y1="594.525" x2="638.6" y2="594.525" stroke="#333" stroke-width="0.8"/>
<line x1="635.6" y1="585.55" x2="638.6" y2="585.55" stroke="#aaa" stroke-width="0.8"/>
<line x1="636.6" y1="576.5749999999999" x2="638.6" y2="576.5749999999999" stroke="#333" stroke-width="0.8"/>
<line x1="635.6" y1="567.6" x2="638.6" y2="567.6" stroke="#aaa" stroke-width="0.8"/>
<line x1="636.6" y1="558.625" x2="638.6" y2="558.625" stroke="#333" stroke-width="0.8"/>
<line x1="635.6" y1="549.65" x2="638.6" y2="549.65" stroke="#aaa" stroke-width="0.8"/>
<line x1="636.6" y1="540.675" x2="638.6" y2="540.675" stroke="#333" stroke-width="0.8"/>
<path d="M520.5 639.4 L520.5 539.6 L638.6 539.6" fill="none" stroke="#4a4a4a" stroke-width="1.15"/>
<path d="M520.0 639.4 L638.6 639.4" fill="none" stroke="#4a4a4a" stroke-width="1.15"/>
<line x1="638.6" y1="539.1" x2="638.6" y2="639.9" stroke="#6a6a6a" stroke-width="1.15"/>
<text x="522.1" y="537.3" font-size="9.9" text-anchor="start" fill="#111" stroke="#222" stroke-width="0.2">-1.8</text>
<text x="543.6" y="537.3" font-size="9.9" text-anchor="start" fill="#111" stroke="#222" stroke-width="0.2">-1.1</text>
<text x="564.1" y="537.3" font-size="9.9" text-anchor="start" fill="#111" stroke="#222" stroke-width="0.2">-.4</text>
<text x="587.1" y="537.3" font-size="9.9" text-anchor="start" fill="#111" stroke="#222" stroke-width="0.2">.4</text>
<text x="607.9" y="537.3" font-size="9.9" text-anchor="start" fill="#111" stroke="#222" stroke-width="0.2">1.1</text>
<text x="629.4" y="537.3" font-size="9.9" text-anchor="start" fill="#111" stroke="#222" stroke-width="0.2">1.8</text>
<text x="507.9" y="642.9" font-size="9.9" text-anchor="middle" fill="#111" stroke="#222" stroke-width="0.2">-.03</text>
<text x="508.59999999999997" y="624.9499999999999" font-size="9.9" text-anchor="middle" fill="#111" stroke="#222" stroke-width="0.2">-.01</text>
<text x="508.4" y="607.0" font-size="9.9" text-anchor="middle" fill="#111" stroke="#222" stroke-width="0.2">.01</text>
<text x="507.7" y="589.05" font-size="9.9" text-anchor="middle" fill="#111" stroke="#222" stroke-width="0.2">.03</text>
<text x="507.7" y="571.1" font-size="9.9" text-anchor="middle" fill="#111" stroke="#222" stroke-width="0.2">.05</text>
<text x="507.7" y="553.15" font-size="9.9" text-anchor="middle" fill="#111" stroke="#222" stroke-width="0.2">.07</text>
<text x="641.0" y="642.8" font-size="9.9" text-anchor="start" fill="#111" stroke="#222" stroke-width="0.2">-1.1</text>
<text x="641.0" y="624.8499999999999" font-size="9.9" text-anchor="start" fill="#111" stroke="#222" stroke-width="0.2">-.4</text>
<text x="642.1" y="606.9" font-size="9.9" text-anchor="start" fill="#111" stroke="#222" stroke-width="0.2">.4</text>
<text x="642.3" y="588.9499999999999" font-size="9.9" text-anchor="start" fill="#111" stroke="#222" stroke-width="0.2">1.1</text>
<text x="642.3" y="571.0" font-size="9.9" text-anchor="start" fill="#111" stroke="#222" stroke-width="0.2">1.8</text>
<text x="642.7" y="553.05" font-size="9.9" text-anchor="start" fill="#111" stroke="#222" stroke-width="0.2">2.6</text>
<text x="522.0" y="653.5" font-size="9.9" text-anchor="start" fill="#111" stroke="#222" stroke-width="0.2">-.05</text>
<text x="543.8" y="653.5" font-size="9.9" text-anchor="start" fill="#111" stroke="#222" stroke-width="0.2">-.03</text>
<text x="564.8" y="653.5" font-size="9.9" text-anchor="start" fill="#111" stroke="#222" stroke-width="0.2">-.01</text>
<text x="586.4" y="653.5" font-size="9.9" text-anchor="start" fill="#111" stroke="#222" stroke-width="0.2">.01</text>
<text x="608.0" y="653.5" font-size="9.9" text-anchor="start" fill="#111" stroke="#222" stroke-width="0.2">.03</text>
<text x="629.5" y="653.5" font-size="9.9" text-anchor="start" fill="#111" stroke="#222" stroke-width="0.2">.05</text>
<circle cx="619.8" cy="554.4" r="2.3" fill="#8a8a8a" stroke="#2c2c2c" stroke-width="1.05"/>
<circle cx="604.3" cy="586.8" r="2.3" fill="#8a8a8a" stroke="#2c2c2c" stroke-width="1.05"/>
<circle cx="594.8" cy="589.5" r="2.3" fill="#8a8a8a" stroke="#2c2c2c" stroke-width="1.05"/>
<circle cx="586" cy="591.3" r="2.3" fill="#8a8a8a" stroke="#2c2c2c" stroke-width="1.05"/>
<circle cx="584" cy="595.5" r="2.3" fill="#8a8a8a" stroke="#2c2c2c" stroke-width="1.05"/>
<circle cx="570.8" cy="591" r="2.3" fill="#8a8a8a" stroke="#2c2c2c" stroke-width="1.05"/>
<circle cx="566" cy="594.8" r="2.3" fill="#8a8a8a" stroke="#2c2c2c" stroke-width="1.05"/>
<circle cx="562.8" cy="596.5" r="2.3" fill="#8a8a8a" stroke="#2c2c2c" stroke-width="1.05"/>
<circle cx="567.3" cy="603.8" r="2.3" fill="#8a8a8a" stroke="#2c2c2c" stroke-width="1.05"/>
<circle cx="552" cy="608.2" r="2.3" fill="#8a8a8a" stroke="#2c2c2c" stroke-width="1.05"/>
<circle cx="566.3" cy="608.3" r="2.3" fill="#8a8a8a" stroke="#2c2c2c" stroke-width="1.05"/>
<circle cx="570" cy="611.8" r="2.3" fill="#8a8a8a" stroke="#2c2c2c" stroke-width="1.05"/>
<circle cx="564" cy="611.8" r="2.3" fill="#8a8a8a" stroke="#2c2c2c" stroke-width="1.05"/>
<circle cx="558.3" cy="613" r="2.3" fill="#8a8a8a" stroke="#2c2c2c" stroke-width="1.05"/>
<circle cx="541.9" cy="614.5" r="2.3" fill="#8a8a8a" stroke="#2c2c2c" stroke-width="1.05"/>
<circle cx="562.5" cy="616.3" r="2.3" fill="#8a8a8a" stroke="#2c2c2c" stroke-width="1.05"/>
<circle cx="566.3" cy="619.5" r="2.3" fill="#8a8a8a" stroke="#2c2c2c" stroke-width="1.05"/>
<circle cx="536.5" cy="623.3" r="2.3" fill="#8a8a8a" stroke="#2c2c2c" stroke-width="1.05"/>
<circle cx="564.5" cy="625" r="2.3" fill="#8a8a8a" stroke="#2c2c2c" stroke-width="1.05"/>
<circle cx="602.5" cy="613" r="2.3" fill="#8a8a8a" stroke="#2c2c2c" stroke-width="1.05"/>
<line x1="520.5" y1="633.6" x2="638.6" y2="565.0" stroke="#111" stroke-width="1.45"/>
<line x1="537.2" y1="596.9" x2="542.2058809010969" y2="601.4365795666191" stroke="#111" stroke-width="1.05"/>
<path d="M546.80 605.60 L540.19 603.66 L544.22 599.21 Z" fill="#000"/>
<text x="486.0" y="598.2" font-size="10.0" text-anchor="middle" fill="#111" stroke="#222" stroke-width="0.2" transform="rotate(-90 486.0 598.2)">top &amp; down (horizontal - vertical)</text>
<text x="496.0" y="605.5" font-size="10.0" text-anchor="middle" fill="#111" stroke="#222" stroke-width="0.2" transform="rotate(-90 496.0 605.5)">in cycles/pixel</text>
<text x="659.8" y="594.0" font-size="10.0" text-anchor="middle" fill="#111" stroke="#222" stroke-width="0.2" transform="rotate(90 659.8 594.0)">cycles/degree</text>
<text x="583.5" y="666.1" font-size="10.0" text-anchor="middle" fill="#111" stroke="#222" stroke-width="0.2">left &amp; right (horizontal - vertical)</text>
<text x="578.6" y="676.8" font-size="10.0" text-anchor="middle" fill="#111" stroke="#222" stroke-width="0.2">in cycles/pixel</text>
</svg></body></html>
